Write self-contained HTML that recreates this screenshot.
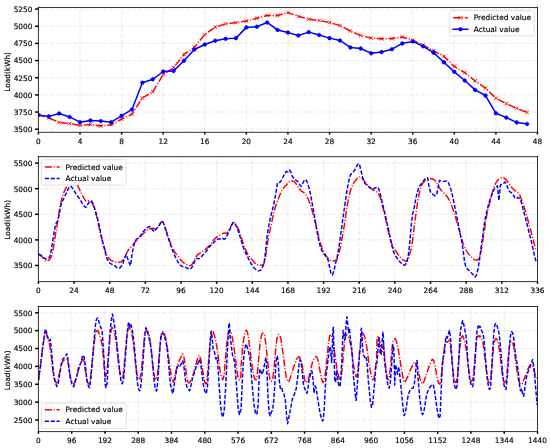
<!DOCTYPE html>
<html><head><meta charset="utf-8"><style>
html,body{margin:0;padding:0;background:#fff;overflow:hidden}
svg{display:block}
svg text{font-family:"DejaVu Sans","Liberation Sans",sans-serif;stroke:#000;stroke-width:0.2px;fill:#000}
</style></head><body>
<svg width="550" height="448" viewBox="0 0 743.243243 605.405405" version="1.1">
 
 <defs>
  <style type="text/css">*{stroke-linejoin: round; stroke-linecap: butt}</style>
 </defs>
 <g id="figure_1">
  <g id="patch_1">
   <path d="M 0 605.405405 
L 743.243243 605.405405 
L 743.243243 0 
L 0 0 
z
" style="fill: #ffffff"/>
  </g>
  <g id="axes_1">
   <g id="patch_2">
    <path d="M 51.891892 178.783784 
L 726.351351 178.783784 
L 726.351351 10.067568 
L 51.891892 10.067568 
z
" style="fill: #ffffff"/>
   </g>
   <g id="matplotlib.axis_1">
    <g id="xtick_1">
     <g id="line2d_1">
      <path d="M 51.891892 178.783784 
L 51.891892 10.067568 
" clip-path="url(#pc8f0f2f021)" style="fill: none; stroke-dasharray: 5.55,2.4; stroke-dashoffset: 0; stroke: #b0b0b0; stroke-opacity: 0.24; stroke-width: 1.5"/>
     </g>
     <g id="line2d_2">
      <g>
       <path d="M 0 0 L 0 3" transform="translate(51.891892 178.783784)" style="stroke: #000000; stroke-width: 2; stroke: #000000; stroke-width: 2"/>
      </g>
     </g>
     <g id="text_1">
      <text style="font-size: 10px; font-family: 'DejaVu Sans'; text-anchor: middle" x="51.891892" y="194.782221" transform="rotate(-0 51.891892 194.782221)">0</text>
     </g>
    </g>
    <g id="xtick_2">
     <g id="line2d_3">
      <path d="M 108.096847 178.783784 
L 108.096847 10.067568 
" clip-path="url(#pc8f0f2f021)" style="fill: none; stroke-dasharray: 5.55,2.4; stroke-dashoffset: 0; stroke: #b0b0b0; stroke-opacity: 0.24; stroke-width: 1.5"/>
     </g>
     <g id="line2d_4">
      <g>
       <path d="M 0 0 L 0 3" transform="translate(108.096847 178.783784)" style="stroke: #000000; stroke-width: 2; stroke: #000000; stroke-width: 2"/>
      </g>
     </g>
     <g id="text_2">
      <text style="font-size: 10px; font-family: 'DejaVu Sans'; text-anchor: middle" x="108.096847" y="194.782221" transform="rotate(-0 108.096847 194.782221)">4</text>
     </g>
    </g>
    <g id="xtick_3">
     <g id="line2d_5">
      <path d="M 164.301802 178.783784 
L 164.301802 10.067568 
" clip-path="url(#pc8f0f2f021)" style="fill: none; stroke-dasharray: 5.55,2.4; stroke-dashoffset: 0; stroke: #b0b0b0; stroke-opacity: 0.24; stroke-width: 1.5"/>
     </g>
     <g id="line2d_6">
      <g>
       <path d="M 0 0 L 0 3" transform="translate(164.301802 178.783784)" style="stroke: #000000; stroke-width: 2; stroke: #000000; stroke-width: 2"/>
      </g>
     </g>
     <g id="text_3">
      <text style="font-size: 10px; font-family: 'DejaVu Sans'; text-anchor: middle" x="164.301802" y="194.782221" transform="rotate(-0 164.301802 194.782221)">8</text>
     </g>
    </g>
    <g id="xtick_4">
     <g id="line2d_7">
      <path d="M 220.506757 178.783784 
L 220.506757 10.067568 
" clip-path="url(#pc8f0f2f021)" style="fill: none; stroke-dasharray: 5.55,2.4; stroke-dashoffset: 0; stroke: #b0b0b0; stroke-opacity: 0.24; stroke-width: 1.5"/>
     </g>
     <g id="line2d_8">
      <g>
       <path d="M 0 0 L 0 3" transform="translate(220.506757 178.783784)" style="stroke: #000000; stroke-width: 2; stroke: #000000; stroke-width: 2"/>
      </g>
     </g>
     <g id="text_4">
      <text style="font-size: 10px; font-family: 'DejaVu Sans'; text-anchor: middle" x="220.506757" y="194.782221" transform="rotate(-0 220.506757 194.782221)">12</text>
     </g>
    </g>
    <g id="xtick_5">
     <g id="line2d_9">
      <path d="M 276.711712 178.783784 
L 276.711712 10.067568 
" clip-path="url(#pc8f0f2f021)" style="fill: none; stroke-dasharray: 5.55,2.4; stroke-dashoffset: 0; stroke: #b0b0b0; stroke-opacity: 0.24; stroke-width: 1.5"/>
     </g>
     <g id="line2d_10">
      <g>
       <path d="M 0 0 L 0 3" transform="translate(276.711712 178.783784)" style="stroke: #000000; stroke-width: 2; stroke: #000000; stroke-width: 2"/>
      </g>
     </g>
     <g id="text_5">
      <text style="font-size: 10px; font-family: 'DejaVu Sans'; text-anchor: middle" x="276.711712" y="194.782221" transform="rotate(-0 276.711712 194.782221)">16</text>
     </g>
    </g>
    <g id="xtick_6">
     <g id="line2d_11">
      <path d="M 332.916667 178.783784 
L 332.916667 10.067568 
" clip-path="url(#pc8f0f2f021)" style="fill: none; stroke-dasharray: 5.55,2.4; stroke-dashoffset: 0; stroke: #b0b0b0; stroke-opacity: 0.24; stroke-width: 1.5"/>
     </g>
     <g id="line2d_12">
      <g>
       <path d="M 0 0 L 0 3" transform="translate(332.916667 178.783784)" style="stroke: #000000; stroke-width: 2; stroke: #000000; stroke-width: 2"/>
      </g>
     </g>
     <g id="text_6">
      <text style="font-size: 10px; font-family: 'DejaVu Sans'; text-anchor: middle" x="332.916667" y="194.782221" transform="rotate(-0 332.916667 194.782221)">20</text>
     </g>
    </g>
    <g id="xtick_7">
     <g id="line2d_13">
      <path d="M 389.121622 178.783784 
L 389.121622 10.067568 
" clip-path="url(#pc8f0f2f021)" style="fill: none; stroke-dasharray: 5.55,2.4; stroke-dashoffset: 0; stroke: #b0b0b0; stroke-opacity: 0.24; stroke-width: 1.5"/>
     </g>
     <g id="line2d_14">
      <g>
       <path d="M 0 0 L 0 3" transform="translate(389.121622 178.783784)" style="stroke: #000000; stroke-width: 2; stroke: #000000; stroke-width: 2"/>
      </g>
     </g>
     <g id="text_7">
      <text style="font-size: 10px; font-family: 'DejaVu Sans'; text-anchor: middle" x="389.121622" y="194.782221" transform="rotate(-0 389.121622 194.782221)">24</text>
     </g>
    </g>
    <g id="xtick_8">
     <g id="line2d_15">
      <path d="M 445.326577 178.783784 
L 445.326577 10.067568 
" clip-path="url(#pc8f0f2f021)" style="fill: none; stroke-dasharray: 5.55,2.4; stroke-dashoffset: 0; stroke: #b0b0b0; stroke-opacity: 0.24; stroke-width: 1.5"/>
     </g>
     <g id="line2d_16">
      <g>
       <path d="M 0 0 L 0 3" transform="translate(445.326577 178.783784)" style="stroke: #000000; stroke-width: 2; stroke: #000000; stroke-width: 2"/>
      </g>
     </g>
     <g id="text_8">
      <text style="font-size: 10px; font-family: 'DejaVu Sans'; text-anchor: middle" x="445.326577" y="194.782221" transform="rotate(-0 445.326577 194.782221)">28</text>
     </g>
    </g>
    <g id="xtick_9">
     <g id="line2d_17">
      <path d="M 501.531532 178.783784 
L 501.531532 10.067568 
" clip-path="url(#pc8f0f2f021)" style="fill: none; stroke-dasharray: 5.55,2.4; stroke-dashoffset: 0; stroke: #b0b0b0; stroke-opacity: 0.24; stroke-width: 1.5"/>
     </g>
     <g id="line2d_18">
      <g>
       <path d="M 0 0 L 0 3" transform="translate(501.531532 178.783784)" style="stroke: #000000; stroke-width: 2; stroke: #000000; stroke-width: 2"/>
      </g>
     </g>
     <g id="text_9">
      <text style="font-size: 10px; font-family: 'DejaVu Sans'; text-anchor: middle" x="501.531532" y="194.782221" transform="rotate(-0 501.531532 194.782221)">32</text>
     </g>
    </g>
    <g id="xtick_10">
     <g id="line2d_19">
      <path d="M 557.736486 178.783784 
L 557.736486 10.067568 
" clip-path="url(#pc8f0f2f021)" style="fill: none; stroke-dasharray: 5.55,2.4; stroke-dashoffset: 0; stroke: #b0b0b0; stroke-opacity: 0.24; stroke-width: 1.5"/>
     </g>
     <g id="line2d_20">
      <g>
       <path d="M 0 0 L 0 3" transform="translate(557.736486 178.783784)" style="stroke: #000000; stroke-width: 2; stroke: #000000; stroke-width: 2"/>
      </g>
     </g>
     <g id="text_10">
      <text style="font-size: 10px; font-family: 'DejaVu Sans'; text-anchor: middle" x="557.736486" y="194.782221" transform="rotate(-0 557.736486 194.782221)">36</text>
     </g>
    </g>
    <g id="xtick_11">
     <g id="line2d_21">
      <path d="M 613.941441 178.783784 
L 613.941441 10.067568 
" clip-path="url(#pc8f0f2f021)" style="fill: none; stroke-dasharray: 5.55,2.4; stroke-dashoffset: 0; stroke: #b0b0b0; stroke-opacity: 0.24; stroke-width: 1.5"/>
     </g>
     <g id="line2d_22">
      <g>
       <path d="M 0 0 L 0 3" transform="translate(613.941441 178.783784)" style="stroke: #000000; stroke-width: 2; stroke: #000000; stroke-width: 2"/>
      </g>
     </g>
     <g id="text_11">
      <text style="font-size: 10px; font-family: 'DejaVu Sans'; text-anchor: middle" x="613.941441" y="194.782221" transform="rotate(-0 613.941441 194.782221)">40</text>
     </g>
    </g>
    <g id="xtick_12">
     <g id="line2d_23">
      <path d="M 670.146396 178.783784 
L 670.146396 10.067568 
" clip-path="url(#pc8f0f2f021)" style="fill: none; stroke-dasharray: 5.55,2.4; stroke-dashoffset: 0; stroke: #b0b0b0; stroke-opacity: 0.24; stroke-width: 1.5"/>
     </g>
     <g id="line2d_24">
      <g>
       <path d="M 0 0 L 0 3" transform="translate(670.146396 178.783784)" style="stroke: #000000; stroke-width: 2; stroke: #000000; stroke-width: 2"/>
      </g>
     </g>
     <g id="text_12">
      <text style="font-size: 10px; font-family: 'DejaVu Sans'; text-anchor: middle" x="670.146396" y="194.782221" transform="rotate(-0 670.146396 194.782221)">44</text>
     </g>
    </g>
    <g id="xtick_13">
     <g id="line2d_25">
      <path d="M 726.351351 178.783784 
L 726.351351 10.067568 
" clip-path="url(#pc8f0f2f021)" style="fill: none; stroke-dasharray: 5.55,2.4; stroke-dashoffset: 0; stroke: #b0b0b0; stroke-opacity: 0.24; stroke-width: 1.5"/>
     </g>
     <g id="line2d_26">
      <g>
       <path d="M 0 0 L 0 3" transform="translate(726.351351 178.783784)" style="stroke: #000000; stroke-width: 2; stroke: #000000; stroke-width: 2"/>
      </g>
     </g>
     <g id="text_13">
      <text style="font-size: 10px; font-family: 'DejaVu Sans'; text-anchor: middle" x="726.351351" y="194.782221" transform="rotate(-0 726.351351 194.782221)">48</text>
     </g>
    </g>
   </g>
   <g id="matplotlib.axis_2">
    <g id="ytick_1">
     <g id="line2d_27">
      <path d="M 51.891892 174.597973 
L 726.351351 174.597973 
" clip-path="url(#pc8f0f2f021)" style="fill: none; stroke-dasharray: 5.55,2.4; stroke-dashoffset: 0; stroke: #b0b0b0; stroke-opacity: 0.24; stroke-width: 1.5"/>
     </g>
     <g id="line2d_28">
      <g>
       <path d="M 0 0 L -4.5 0" transform="translate(51.891892 174.597973)" style="stroke: #000000; stroke-width: 2; stroke: #000000; stroke-width: 2"/>
      </g>
     </g>
     <g id="text_14">
      <text style="font-size: 10px; font-family: 'DejaVu Sans'; text-anchor: end" x="43.891892" y="178.397192" transform="rotate(-0 43.891892 178.397192)">3500</text>
     </g>
    </g>
    <g id="ytick_2">
     <g id="line2d_29">
      <path d="M 51.891892 151.412162 
L 726.351351 151.412162 
" clip-path="url(#pc8f0f2f021)" style="fill: none; stroke-dasharray: 5.55,2.4; stroke-dashoffset: 0; stroke: #b0b0b0; stroke-opacity: 0.24; stroke-width: 1.5"/>
     </g>
     <g id="line2d_30">
      <g>
       <path d="M 0 0 L -4.5 0" transform="translate(51.891892 151.412162)" style="stroke: #000000; stroke-width: 2; stroke: #000000; stroke-width: 2"/>
      </g>
     </g>
     <g id="text_15">
      <text style="font-size: 10px; font-family: 'DejaVu Sans'; text-anchor: end" x="43.891892" y="155.211381" transform="rotate(-0 43.891892 155.211381)">3750</text>
     </g>
    </g>
    <g id="ytick_3">
     <g id="line2d_31">
      <path d="M 51.891892 128.226351 
L 726.351351 128.226351 
" clip-path="url(#pc8f0f2f021)" style="fill: none; stroke-dasharray: 5.55,2.4; stroke-dashoffset: 0; stroke: #b0b0b0; stroke-opacity: 0.24; stroke-width: 1.5"/>
     </g>
     <g id="line2d_32">
      <g>
       <path d="M 0 0 L -4.5 0" transform="translate(51.891892 128.226351)" style="stroke: #000000; stroke-width: 2; stroke: #000000; stroke-width: 2"/>
      </g>
     </g>
     <g id="text_16">
      <text style="font-size: 10px; font-family: 'DejaVu Sans'; text-anchor: end" x="43.891892" y="132.02557" transform="rotate(-0 43.891892 132.02557)">4000</text>
     </g>
    </g>
    <g id="ytick_4">
     <g id="line2d_33">
      <path d="M 51.891892 105.040541 
L 726.351351 105.040541 
" clip-path="url(#pc8f0f2f021)" style="fill: none; stroke-dasharray: 5.55,2.4; stroke-dashoffset: 0; stroke: #b0b0b0; stroke-opacity: 0.24; stroke-width: 1.5"/>
     </g>
     <g id="line2d_34">
      <g>
       <path d="M 0 0 L -4.5 0" transform="translate(51.891892 105.040541)" style="stroke: #000000; stroke-width: 2; stroke: #000000; stroke-width: 2"/>
      </g>
     </g>
     <g id="text_17">
      <text style="font-size: 10px; font-family: 'DejaVu Sans'; text-anchor: end" x="43.891892" y="108.839759" transform="rotate(-0 43.891892 108.839759)">4250</text>
     </g>
    </g>
    <g id="ytick_5">
     <g id="line2d_35">
      <path d="M 51.891892 81.85473 
L 726.351351 81.85473 
" clip-path="url(#pc8f0f2f021)" style="fill: none; stroke-dasharray: 5.55,2.4; stroke-dashoffset: 0; stroke: #b0b0b0; stroke-opacity: 0.24; stroke-width: 1.5"/>
     </g>
     <g id="line2d_36">
      <g>
       <path d="M 0 0 L -4.5 0" transform="translate(51.891892 81.85473)" style="stroke: #000000; stroke-width: 2; stroke: #000000; stroke-width: 2"/>
      </g>
     </g>
     <g id="text_18">
      <text style="font-size: 10px; font-family: 'DejaVu Sans'; text-anchor: end" x="43.891892" y="85.653948" transform="rotate(-0 43.891892 85.653948)">4500</text>
     </g>
    </g>
    <g id="ytick_6">
     <g id="line2d_37">
      <path d="M 51.891892 58.668919 
L 726.351351 58.668919 
" clip-path="url(#pc8f0f2f021)" style="fill: none; stroke-dasharray: 5.55,2.4; stroke-dashoffset: 0; stroke: #b0b0b0; stroke-opacity: 0.24; stroke-width: 1.5"/>
     </g>
     <g id="line2d_38">
      <g>
       <path d="M 0 0 L -4.5 0" transform="translate(51.891892 58.668919)" style="stroke: #000000; stroke-width: 2; stroke: #000000; stroke-width: 2"/>
      </g>
     </g>
     <g id="text_19">
      <text style="font-size: 10px; font-family: 'DejaVu Sans'; text-anchor: end" x="43.891892" y="62.468138" transform="rotate(-0 43.891892 62.468138)">4750</text>
     </g>
    </g>
    <g id="ytick_7">
     <g id="line2d_39">
      <path d="M 51.891892 35.483108 
L 726.351351 35.483108 
" clip-path="url(#pc8f0f2f021)" style="fill: none; stroke-dasharray: 5.55,2.4; stroke-dashoffset: 0; stroke: #b0b0b0; stroke-opacity: 0.24; stroke-width: 1.5"/>
     </g>
     <g id="line2d_40">
      <g>
       <path d="M 0 0 L -4.5 0" transform="translate(51.891892 35.483108)" style="stroke: #000000; stroke-width: 2; stroke: #000000; stroke-width: 2"/>
      </g>
     </g>
     <g id="text_20">
      <text style="font-size: 10px; font-family: 'DejaVu Sans'; text-anchor: end" x="43.891892" y="39.282327" transform="rotate(-0 43.891892 39.282327)">5000</text>
     </g>
    </g>
    <g id="ytick_8">
     <g id="line2d_41">
      <path d="M 51.891892 12.297297 
L 726.351351 12.297297 
" clip-path="url(#pc8f0f2f021)" style="fill: none; stroke-dasharray: 5.55,2.4; stroke-dashoffset: 0; stroke: #b0b0b0; stroke-opacity: 0.24; stroke-width: 1.5"/>
     </g>
     <g id="line2d_42">
      <g>
       <path d="M 0 0 L -4.5 0" transform="translate(51.891892 12.297297)" style="stroke: #000000; stroke-width: 2; stroke: #000000; stroke-width: 2"/>
      </g>
     </g>
     <g id="text_21">
      <text style="font-size: 10px; font-family: 'DejaVu Sans'; text-anchor: end" x="43.891892" y="16.096516" transform="rotate(-0 43.891892 16.096516)">5250</text>
     </g>
    </g>
    <g id="text_22">
     <text style="font-size: 10px; font-family: 'DejaVu Sans'; text-anchor: middle" x="13.661177" y="97.125135" transform="rotate(-90 13.661177 97.125135)">Load(kWh)</text>
    </g>
   </g>
   <g id="line2d_43">
    <path d="M 51.891892 155.510811 
L 65.943131 159.208108 
L 79.994369 165.401081 
L 94.045608 167.064865 
L 108.096847 169.560541 
L 122.148086 168.266486 
L 136.199324 170.3 
L 150.250563 168.543784 
L 164.301802 160.964324 
L 178.353041 154.309189 
L 192.404279 132.402703 
L 206.455518 124.083784 
L 220.506757 100.698378 
L 234.557995 91.362703 
L 248.609234 73.615676 
L 262.660473 63.91027 
L 276.711712 46.625405 
L 290.76295 36.55027 
L 304.814189 32.298378 
L 318.865428 30.542162 
L 332.916667 28.416216 
L 346.967905 24.718919 
L 361.019144 20.836757 
L 375.070383 20.836757 
L 389.121622 17.047027 
L 403.17286 22.038378 
L 417.224099 25.920541 
L 431.275338 27.676757 
L 445.326577 30.357297 
L 459.377815 34.516757 
L 473.429054 41.911351 
L 487.480293 48.011892 
L 501.531532 51.524324 
L 515.58277 52.448649 
L 529.634009 52.078919 
L 543.685248 50.045405 
L 557.736486 54.204865 
L 571.787725 60.86 
L 585.838964 68.624324 
L 599.890203 76.111351 
L 613.941441 89.791351 
L 627.99268 98.11027 
L 642.043919 109.294595 
L 656.095158 119 
L 670.146396 132.68 
L 684.197635 139.982162 
L 698.248874 146.452432 
L 712.300113 151.905946 
" clip-path="url(#pc8f0f2f021)" style="fill: none; stroke-dasharray: 9.6,2.4,1.5,2.4; stroke-dashoffset: 0; stroke: #ff0000; stroke-width: 2"/>
    <g clip-path="url(#pc8f0f2f021)">
     <path d="M -2.4 2.4 L 2.4 -2.4 M -2.4 -2.4 L 2.4 2.4" transform="translate(51.891892 155.510811)" style="fill: #ff0000; stroke: #ff0000; stroke-width: 1.2; stroke: #ff0000; stroke-width: 1.2"/>
     <path d="M -2.4 2.4 L 2.4 -2.4 M -2.4 -2.4 L 2.4 2.4" transform="translate(65.943131 159.208108)" style="fill: #ff0000; stroke: #ff0000; stroke-width: 1.2; stroke: #ff0000; stroke-width: 1.2"/>
     <path d="M -2.4 2.4 L 2.4 -2.4 M -2.4 -2.4 L 2.4 2.4" transform="translate(79.994369 165.401081)" style="fill: #ff0000; stroke: #ff0000; stroke-width: 1.2; stroke: #ff0000; stroke-width: 1.2"/>
     <path d="M -2.4 2.4 L 2.4 -2.4 M -2.4 -2.4 L 2.4 2.4" transform="translate(94.045608 167.064865)" style="fill: #ff0000; stroke: #ff0000; stroke-width: 1.2; stroke: #ff0000; stroke-width: 1.2"/>
     <path d="M -2.4 2.4 L 2.4 -2.4 M -2.4 -2.4 L 2.4 2.4" transform="translate(108.096847 169.560541)" style="fill: #ff0000; stroke: #ff0000; stroke-width: 1.2; stroke: #ff0000; stroke-width: 1.2"/>
     <path d="M -2.4 2.4 L 2.4 -2.4 M -2.4 -2.4 L 2.4 2.4" transform="translate(122.148086 168.266486)" style="fill: #ff0000; stroke: #ff0000; stroke-width: 1.2; stroke: #ff0000; stroke-width: 1.2"/>
     <path d="M -2.4 2.4 L 2.4 -2.4 M -2.4 -2.4 L 2.4 2.4" transform="translate(136.199324 170.3)" style="fill: #ff0000; stroke: #ff0000; stroke-width: 1.2; stroke: #ff0000; stroke-width: 1.2"/>
     <path d="M -2.4 2.4 L 2.4 -2.4 M -2.4 -2.4 L 2.4 2.4" transform="translate(150.250563 168.543784)" style="fill: #ff0000; stroke: #ff0000; stroke-width: 1.2; stroke: #ff0000; stroke-width: 1.2"/>
     <path d="M -2.4 2.4 L 2.4 -2.4 M -2.4 -2.4 L 2.4 2.4" transform="translate(164.301802 160.964324)" style="fill: #ff0000; stroke: #ff0000; stroke-width: 1.2; stroke: #ff0000; stroke-width: 1.2"/>
     <path d="M -2.4 2.4 L 2.4 -2.4 M -2.4 -2.4 L 2.4 2.4" transform="translate(178.353041 154.309189)" style="fill: #ff0000; stroke: #ff0000; stroke-width: 1.2; stroke: #ff0000; stroke-width: 1.2"/>
     <path d="M -2.4 2.4 L 2.4 -2.4 M -2.4 -2.4 L 2.4 2.4" transform="translate(192.404279 132.402703)" style="fill: #ff0000; stroke: #ff0000; stroke-width: 1.2; stroke: #ff0000; stroke-width: 1.2"/>
     <path d="M -2.4 2.4 L 2.4 -2.4 M -2.4 -2.4 L 2.4 2.4" transform="translate(206.455518 124.083784)" style="fill: #ff0000; stroke: #ff0000; stroke-width: 1.2; stroke: #ff0000; stroke-width: 1.2"/>
     <path d="M -2.4 2.4 L 2.4 -2.4 M -2.4 -2.4 L 2.4 2.4" transform="translate(220.506757 100.698378)" style="fill: #ff0000; stroke: #ff0000; stroke-width: 1.2; stroke: #ff0000; stroke-width: 1.2"/>
     <path d="M -2.4 2.4 L 2.4 -2.4 M -2.4 -2.4 L 2.4 2.4" transform="translate(234.557995 91.362703)" style="fill: #ff0000; stroke: #ff0000; stroke-width: 1.2; stroke: #ff0000; stroke-width: 1.2"/>
     <path d="M -2.4 2.4 L 2.4 -2.4 M -2.4 -2.4 L 2.4 2.4" transform="translate(248.609234 73.615676)" style="fill: #ff0000; stroke: #ff0000; stroke-width: 1.2; stroke: #ff0000; stroke-width: 1.2"/>
     <path d="M -2.4 2.4 L 2.4 -2.4 M -2.4 -2.4 L 2.4 2.4" transform="translate(262.660473 63.91027)" style="fill: #ff0000; stroke: #ff0000; stroke-width: 1.2; stroke: #ff0000; stroke-width: 1.2"/>
     <path d="M -2.4 2.4 L 2.4 -2.4 M -2.4 -2.4 L 2.4 2.4" transform="translate(276.711712 46.625405)" style="fill: #ff0000; stroke: #ff0000; stroke-width: 1.2; stroke: #ff0000; stroke-width: 1.2"/>
     <path d="M -2.4 2.4 L 2.4 -2.4 M -2.4 -2.4 L 2.4 2.4" transform="translate(290.76295 36.55027)" style="fill: #ff0000; stroke: #ff0000; stroke-width: 1.2; stroke: #ff0000; stroke-width: 1.2"/>
     <path d="M -2.4 2.4 L 2.4 -2.4 M -2.4 -2.4 L 2.4 2.4" transform="translate(304.814189 32.298378)" style="fill: #ff0000; stroke: #ff0000; stroke-width: 1.2; stroke: #ff0000; stroke-width: 1.2"/>
     <path d="M -2.4 2.4 L 2.4 -2.4 M -2.4 -2.4 L 2.4 2.4" transform="translate(318.865428 30.542162)" style="fill: #ff0000; stroke: #ff0000; stroke-width: 1.2; stroke: #ff0000; stroke-width: 1.2"/>
     <path d="M -2.4 2.4 L 2.4 -2.4 M -2.4 -2.4 L 2.4 2.4" transform="translate(332.916667 28.416216)" style="fill: #ff0000; stroke: #ff0000; stroke-width: 1.2; stroke: #ff0000; stroke-width: 1.2"/>
     <path d="M -2.4 2.4 L 2.4 -2.4 M -2.4 -2.4 L 2.4 2.4" transform="translate(346.967905 24.718919)" style="fill: #ff0000; stroke: #ff0000; stroke-width: 1.2; stroke: #ff0000; stroke-width: 1.2"/>
     <path d="M -2.4 2.4 L 2.4 -2.4 M -2.4 -2.4 L 2.4 2.4" transform="translate(361.019144 20.836757)" style="fill: #ff0000; stroke: #ff0000; stroke-width: 1.2; stroke: #ff0000; stroke-width: 1.2"/>
     <path d="M -2.4 2.4 L 2.4 -2.4 M -2.4 -2.4 L 2.4 2.4" transform="translate(375.070383 20.836757)" style="fill: #ff0000; stroke: #ff0000; stroke-width: 1.2; stroke: #ff0000; stroke-width: 1.2"/>
     <path d="M -2.4 2.4 L 2.4 -2.4 M -2.4 -2.4 L 2.4 2.4" transform="translate(389.121622 17.047027)" style="fill: #ff0000; stroke: #ff0000; stroke-width: 1.2; stroke: #ff0000; stroke-width: 1.2"/>
     <path d="M -2.4 2.4 L 2.4 -2.4 M -2.4 -2.4 L 2.4 2.4" transform="translate(403.17286 22.038378)" style="fill: #ff0000; stroke: #ff0000; stroke-width: 1.2; stroke: #ff0000; stroke-width: 1.2"/>
     <path d="M -2.4 2.4 L 2.4 -2.4 M -2.4 -2.4 L 2.4 2.4" transform="translate(417.224099 25.920541)" style="fill: #ff0000; stroke: #ff0000; stroke-width: 1.2; stroke: #ff0000; stroke-width: 1.2"/>
     <path d="M -2.4 2.4 L 2.4 -2.4 M -2.4 -2.4 L 2.4 2.4" transform="translate(431.275338 27.676757)" style="fill: #ff0000; stroke: #ff0000; stroke-width: 1.2; stroke: #ff0000; stroke-width: 1.2"/>
     <path d="M -2.4 2.4 L 2.4 -2.4 M -2.4 -2.4 L 2.4 2.4" transform="translate(445.326577 30.357297)" style="fill: #ff0000; stroke: #ff0000; stroke-width: 1.2; stroke: #ff0000; stroke-width: 1.2"/>
     <path d="M -2.4 2.4 L 2.4 -2.4 M -2.4 -2.4 L 2.4 2.4" transform="translate(459.377815 34.516757)" style="fill: #ff0000; stroke: #ff0000; stroke-width: 1.2; stroke: #ff0000; stroke-width: 1.2"/>
     <path d="M -2.4 2.4 L 2.4 -2.4 M -2.4 -2.4 L 2.4 2.4" transform="translate(473.429054 41.911351)" style="fill: #ff0000; stroke: #ff0000; stroke-width: 1.2; stroke: #ff0000; stroke-width: 1.2"/>
     <path d="M -2.4 2.4 L 2.4 -2.4 M -2.4 -2.4 L 2.4 2.4" transform="translate(487.480293 48.011892)" style="fill: #ff0000; stroke: #ff0000; stroke-width: 1.2; stroke: #ff0000; stroke-width: 1.2"/>
     <path d="M -2.4 2.4 L 2.4 -2.4 M -2.4 -2.4 L 2.4 2.4" transform="translate(501.531532 51.524324)" style="fill: #ff0000; stroke: #ff0000; stroke-width: 1.2; stroke: #ff0000; stroke-width: 1.2"/>
     <path d="M -2.4 2.4 L 2.4 -2.4 M -2.4 -2.4 L 2.4 2.4" transform="translate(515.58277 52.448649)" style="fill: #ff0000; stroke: #ff0000; stroke-width: 1.2; stroke: #ff0000; stroke-width: 1.2"/>
     <path d="M -2.4 2.4 L 2.4 -2.4 M -2.4 -2.4 L 2.4 2.4" transform="translate(529.634009 52.078919)" style="fill: #ff0000; stroke: #ff0000; stroke-width: 1.2; stroke: #ff0000; stroke-width: 1.2"/>
     <path d="M -2.4 2.4 L 2.4 -2.4 M -2.4 -2.4 L 2.4 2.4" transform="translate(543.685248 50.045405)" style="fill: #ff0000; stroke: #ff0000; stroke-width: 1.2; stroke: #ff0000; stroke-width: 1.2"/>
     <path d="M -2.4 2.4 L 2.4 -2.4 M -2.4 -2.4 L 2.4 2.4" transform="translate(557.736486 54.204865)" style="fill: #ff0000; stroke: #ff0000; stroke-width: 1.2; stroke: #ff0000; stroke-width: 1.2"/>
     <path d="M -2.4 2.4 L 2.4 -2.4 M -2.4 -2.4 L 2.4 2.4" transform="translate(571.787725 60.86)" style="fill: #ff0000; stroke: #ff0000; stroke-width: 1.2; stroke: #ff0000; stroke-width: 1.2"/>
     <path d="M -2.4 2.4 L 2.4 -2.4 M -2.4 -2.4 L 2.4 2.4" transform="translate(585.838964 68.624324)" style="fill: #ff0000; stroke: #ff0000; stroke-width: 1.2; stroke: #ff0000; stroke-width: 1.2"/>
     <path d="M -2.4 2.4 L 2.4 -2.4 M -2.4 -2.4 L 2.4 2.4" transform="translate(599.890203 76.111351)" style="fill: #ff0000; stroke: #ff0000; stroke-width: 1.2; stroke: #ff0000; stroke-width: 1.2"/>
     <path d="M -2.4 2.4 L 2.4 -2.4 M -2.4 -2.4 L 2.4 2.4" transform="translate(613.941441 89.791351)" style="fill: #ff0000; stroke: #ff0000; stroke-width: 1.2; stroke: #ff0000; stroke-width: 1.2"/>
     <path d="M -2.4 2.4 L 2.4 -2.4 M -2.4 -2.4 L 2.4 2.4" transform="translate(627.99268 98.11027)" style="fill: #ff0000; stroke: #ff0000; stroke-width: 1.2; stroke: #ff0000; stroke-width: 1.2"/>
     <path d="M -2.4 2.4 L 2.4 -2.4 M -2.4 -2.4 L 2.4 2.4" transform="translate(642.043919 109.294595)" style="fill: #ff0000; stroke: #ff0000; stroke-width: 1.2; stroke: #ff0000; stroke-width: 1.2"/>
     <path d="M -2.4 2.4 L 2.4 -2.4 M -2.4 -2.4 L 2.4 2.4" transform="translate(656.095158 119)" style="fill: #ff0000; stroke: #ff0000; stroke-width: 1.2; stroke: #ff0000; stroke-width: 1.2"/>
     <path d="M -2.4 2.4 L 2.4 -2.4 M -2.4 -2.4 L 2.4 2.4" transform="translate(670.146396 132.68)" style="fill: #ff0000; stroke: #ff0000; stroke-width: 1.2; stroke: #ff0000; stroke-width: 1.2"/>
     <path d="M -2.4 2.4 L 2.4 -2.4 M -2.4 -2.4 L 2.4 2.4" transform="translate(684.197635 139.982162)" style="fill: #ff0000; stroke: #ff0000; stroke-width: 1.2; stroke: #ff0000; stroke-width: 1.2"/>
     <path d="M -2.4 2.4 L 2.4 -2.4 M -2.4 -2.4 L 2.4 2.4" transform="translate(698.248874 146.452432)" style="fill: #ff0000; stroke: #ff0000; stroke-width: 1.2; stroke: #ff0000; stroke-width: 1.2"/>
     <path d="M -2.4 2.4 L 2.4 -2.4 M -2.4 -2.4 L 2.4 2.4" transform="translate(712.300113 151.905946)" style="fill: #ff0000; stroke: #ff0000; stroke-width: 1.2; stroke: #ff0000; stroke-width: 1.2"/>
    </g>
   </g>
   <g id="line2d_44">
    <path d="M 51.891892 155.510811 
L 65.943131 157.267027 
L 79.994369 153.292432 
L 94.045608 158.006486 
L 108.096847 165.123784 
L 122.148086 162.720541 
L 136.199324 163.644865 
L 150.250563 165.123784 
L 164.301802 156.527568 
L 178.353041 147.931351 
L 192.404279 111.79027 
L 206.455518 107.168649 
L 220.506757 96.631351 
L 234.557995 95.799459 
L 248.609234 82.027027 
L 262.660473 66.868108 
L 276.711712 60.120541 
L 290.76295 55.036757 
L 304.814189 52.448649 
L 318.865428 51.524324 
L 332.916667 37.012432 
L 346.967905 36.180541 
L 361.019144 30.357297 
L 375.070383 40.432432 
L 389.121622 44.037297 
L 403.17286 48.011892 
L 417.224099 43.39027 
L 431.275338 47.272432 
L 445.326577 51.524324 
L 459.377815 54.667027 
L 473.429054 64.095135 
L 487.480293 65.574054 
L 501.531532 71.951892 
L 515.58277 70.380541 
L 529.634009 66.498378 
L 543.685248 58.641622 
L 557.736486 55.961081 
L 571.787725 62.523784 
L 585.838964 71.12 
L 599.890203 84.152973 
L 613.941441 97.093514 
L 627.99268 108.74 
L 642.043919 121.495676 
L 656.095158 129.075135 
L 670.146396 153.107568 
L 684.197635 158.930811 
L 698.248874 165.401081 
L 712.300113 167.527027 
" clip-path="url(#pc8f0f2f021)" style="fill: none; stroke: #0000ff; stroke-width: 2; stroke-linecap: square"/>
    <g clip-path="url(#pc8f0f2f021)">
     <path d="M 0 2.4 C 0.636487 2.4 1.246992 2.147121 1.697056 1.697056 C 2.147121 1.246992 2.4 0.636487 2.4 0 C 2.4 -0.636487 2.147121 -1.246992 1.697056 -1.697056 C 1.246992 -2.147121 0.636487 -2.4 0 -2.4 C -0.636487 -2.4 -1.246992 -2.147121 -1.697056 -1.697056 C -2.147121 -1.246992 -2.4 -0.636487 -2.4 0 C -2.4 0.636487 -2.147121 1.246992 -1.697056 1.697056 C -1.246992 2.147121 -0.636487 2.4 0 2.4 z" transform="translate(51.891892 155.510811)" style="fill: #0000ff; stroke: #0000ff; stroke: #0000ff"/>
     <path d="M 0 2.4 C 0.636487 2.4 1.246992 2.147121 1.697056 1.697056 C 2.147121 1.246992 2.4 0.636487 2.4 0 C 2.4 -0.636487 2.147121 -1.246992 1.697056 -1.697056 C 1.246992 -2.147121 0.636487 -2.4 0 -2.4 C -0.636487 -2.4 -1.246992 -2.147121 -1.697056 -1.697056 C -2.147121 -1.246992 -2.4 -0.636487 -2.4 0 C -2.4 0.636487 -2.147121 1.246992 -1.697056 1.697056 C -1.246992 2.147121 -0.636487 2.4 0 2.4 z" transform="translate(65.943131 157.267027)" style="fill: #0000ff; stroke: #0000ff; stroke: #0000ff"/>
     <path d="M 0 2.4 C 0.636487 2.4 1.246992 2.147121 1.697056 1.697056 C 2.147121 1.246992 2.4 0.636487 2.4 0 C 2.4 -0.636487 2.147121 -1.246992 1.697056 -1.697056 C 1.246992 -2.147121 0.636487 -2.4 0 -2.4 C -0.636487 -2.4 -1.246992 -2.147121 -1.697056 -1.697056 C -2.147121 -1.246992 -2.4 -0.636487 -2.4 0 C -2.4 0.636487 -2.147121 1.246992 -1.697056 1.697056 C -1.246992 2.147121 -0.636487 2.4 0 2.4 z" transform="translate(79.994369 153.292432)" style="fill: #0000ff; stroke: #0000ff; stroke: #0000ff"/>
     <path d="M 0 2.4 C 0.636487 2.4 1.246992 2.147121 1.697056 1.697056 C 2.147121 1.246992 2.4 0.636487 2.4 0 C 2.4 -0.636487 2.147121 -1.246992 1.697056 -1.697056 C 1.246992 -2.147121 0.636487 -2.4 0 -2.4 C -0.636487 -2.4 -1.246992 -2.147121 -1.697056 -1.697056 C -2.147121 -1.246992 -2.4 -0.636487 -2.4 0 C -2.4 0.636487 -2.147121 1.246992 -1.697056 1.697056 C -1.246992 2.147121 -0.636487 2.4 0 2.4 z" transform="translate(94.045608 158.006486)" style="fill: #0000ff; stroke: #0000ff; stroke: #0000ff"/>
     <path d="M 0 2.4 C 0.636487 2.4 1.246992 2.147121 1.697056 1.697056 C 2.147121 1.246992 2.4 0.636487 2.4 0 C 2.4 -0.636487 2.147121 -1.246992 1.697056 -1.697056 C 1.246992 -2.147121 0.636487 -2.4 0 -2.4 C -0.636487 -2.4 -1.246992 -2.147121 -1.697056 -1.697056 C -2.147121 -1.246992 -2.4 -0.636487 -2.4 0 C -2.4 0.636487 -2.147121 1.246992 -1.697056 1.697056 C -1.246992 2.147121 -0.636487 2.4 0 2.4 z" transform="translate(108.096847 165.123784)" style="fill: #0000ff; stroke: #0000ff; stroke: #0000ff"/>
     <path d="M 0 2.4 C 0.636487 2.4 1.246992 2.147121 1.697056 1.697056 C 2.147121 1.246992 2.4 0.636487 2.4 0 C 2.4 -0.636487 2.147121 -1.246992 1.697056 -1.697056 C 1.246992 -2.147121 0.636487 -2.4 0 -2.4 C -0.636487 -2.4 -1.246992 -2.147121 -1.697056 -1.697056 C -2.147121 -1.246992 -2.4 -0.636487 -2.4 0 C -2.4 0.636487 -2.147121 1.246992 -1.697056 1.697056 C -1.246992 2.147121 -0.636487 2.4 0 2.4 z" transform="translate(122.148086 162.720541)" style="fill: #0000ff; stroke: #0000ff; stroke: #0000ff"/>
     <path d="M 0 2.4 C 0.636487 2.4 1.246992 2.147121 1.697056 1.697056 C 2.147121 1.246992 2.4 0.636487 2.4 0 C 2.4 -0.636487 2.147121 -1.246992 1.697056 -1.697056 C 1.246992 -2.147121 0.636487 -2.4 0 -2.4 C -0.636487 -2.4 -1.246992 -2.147121 -1.697056 -1.697056 C -2.147121 -1.246992 -2.4 -0.636487 -2.4 0 C -2.4 0.636487 -2.147121 1.246992 -1.697056 1.697056 C -1.246992 2.147121 -0.636487 2.4 0 2.4 z" transform="translate(136.199324 163.644865)" style="fill: #0000ff; stroke: #0000ff; stroke: #0000ff"/>
     <path d="M 0 2.4 C 0.636487 2.4 1.246992 2.147121 1.697056 1.697056 C 2.147121 1.246992 2.4 0.636487 2.4 0 C 2.4 -0.636487 2.147121 -1.246992 1.697056 -1.697056 C 1.246992 -2.147121 0.636487 -2.4 0 -2.4 C -0.636487 -2.4 -1.246992 -2.147121 -1.697056 -1.697056 C -2.147121 -1.246992 -2.4 -0.636487 -2.4 0 C -2.4 0.636487 -2.147121 1.246992 -1.697056 1.697056 C -1.246992 2.147121 -0.636487 2.4 0 2.4 z" transform="translate(150.250563 165.123784)" style="fill: #0000ff; stroke: #0000ff; stroke: #0000ff"/>
     <path d="M 0 2.4 C 0.636487 2.4 1.246992 2.147121 1.697056 1.697056 C 2.147121 1.246992 2.4 0.636487 2.4 0 C 2.4 -0.636487 2.147121 -1.246992 1.697056 -1.697056 C 1.246992 -2.147121 0.636487 -2.4 0 -2.4 C -0.636487 -2.4 -1.246992 -2.147121 -1.697056 -1.697056 C -2.147121 -1.246992 -2.4 -0.636487 -2.4 0 C -2.4 0.636487 -2.147121 1.246992 -1.697056 1.697056 C -1.246992 2.147121 -0.636487 2.4 0 2.4 z" transform="translate(164.301802 156.527568)" style="fill: #0000ff; stroke: #0000ff; stroke: #0000ff"/>
     <path d="M 0 2.4 C 0.636487 2.4 1.246992 2.147121 1.697056 1.697056 C 2.147121 1.246992 2.4 0.636487 2.4 0 C 2.4 -0.636487 2.147121 -1.246992 1.697056 -1.697056 C 1.246992 -2.147121 0.636487 -2.4 0 -2.4 C -0.636487 -2.4 -1.246992 -2.147121 -1.697056 -1.697056 C -2.147121 -1.246992 -2.4 -0.636487 -2.4 0 C -2.4 0.636487 -2.147121 1.246992 -1.697056 1.697056 C -1.246992 2.147121 -0.636487 2.4 0 2.4 z" transform="translate(178.353041 147.931351)" style="fill: #0000ff; stroke: #0000ff; stroke: #0000ff"/>
     <path d="M 0 2.4 C 0.636487 2.4 1.246992 2.147121 1.697056 1.697056 C 2.147121 1.246992 2.4 0.636487 2.4 0 C 2.4 -0.636487 2.147121 -1.246992 1.697056 -1.697056 C 1.246992 -2.147121 0.636487 -2.4 0 -2.4 C -0.636487 -2.4 -1.246992 -2.147121 -1.697056 -1.697056 C -2.147121 -1.246992 -2.4 -0.636487 -2.4 0 C -2.4 0.636487 -2.147121 1.246992 -1.697056 1.697056 C -1.246992 2.147121 -0.636487 2.4 0 2.4 z" transform="translate(192.404279 111.79027)" style="fill: #0000ff; stroke: #0000ff; stroke: #0000ff"/>
     <path d="M 0 2.4 C 0.636487 2.4 1.246992 2.147121 1.697056 1.697056 C 2.147121 1.246992 2.4 0.636487 2.4 0 C 2.4 -0.636487 2.147121 -1.246992 1.697056 -1.697056 C 1.246992 -2.147121 0.636487 -2.4 0 -2.4 C -0.636487 -2.4 -1.246992 -2.147121 -1.697056 -1.697056 C -2.147121 -1.246992 -2.4 -0.636487 -2.4 0 C -2.4 0.636487 -2.147121 1.246992 -1.697056 1.697056 C -1.246992 2.147121 -0.636487 2.4 0 2.4 z" transform="translate(206.455518 107.168649)" style="fill: #0000ff; stroke: #0000ff; stroke: #0000ff"/>
     <path d="M 0 2.4 C 0.636487 2.4 1.246992 2.147121 1.697056 1.697056 C 2.147121 1.246992 2.4 0.636487 2.4 0 C 2.4 -0.636487 2.147121 -1.246992 1.697056 -1.697056 C 1.246992 -2.147121 0.636487 -2.4 0 -2.4 C -0.636487 -2.4 -1.246992 -2.147121 -1.697056 -1.697056 C -2.147121 -1.246992 -2.4 -0.636487 -2.4 0 C -2.4 0.636487 -2.147121 1.246992 -1.697056 1.697056 C -1.246992 2.147121 -0.636487 2.4 0 2.4 z" transform="translate(220.506757 96.631351)" style="fill: #0000ff; stroke: #0000ff; stroke: #0000ff"/>
     <path d="M 0 2.4 C 0.636487 2.4 1.246992 2.147121 1.697056 1.697056 C 2.147121 1.246992 2.4 0.636487 2.4 0 C 2.4 -0.636487 2.147121 -1.246992 1.697056 -1.697056 C 1.246992 -2.147121 0.636487 -2.4 0 -2.4 C -0.636487 -2.4 -1.246992 -2.147121 -1.697056 -1.697056 C -2.147121 -1.246992 -2.4 -0.636487 -2.4 0 C -2.4 0.636487 -2.147121 1.246992 -1.697056 1.697056 C -1.246992 2.147121 -0.636487 2.4 0 2.4 z" transform="translate(234.557995 95.799459)" style="fill: #0000ff; stroke: #0000ff; stroke: #0000ff"/>
     <path d="M 0 2.4 C 0.636487 2.4 1.246992 2.147121 1.697056 1.697056 C 2.147121 1.246992 2.4 0.636487 2.4 0 C 2.4 -0.636487 2.147121 -1.246992 1.697056 -1.697056 C 1.246992 -2.147121 0.636487 -2.4 0 -2.4 C -0.636487 -2.4 -1.246992 -2.147121 -1.697056 -1.697056 C -2.147121 -1.246992 -2.4 -0.636487 -2.4 0 C -2.4 0.636487 -2.147121 1.246992 -1.697056 1.697056 C -1.246992 2.147121 -0.636487 2.4 0 2.4 z" transform="translate(248.609234 82.027027)" style="fill: #0000ff; stroke: #0000ff; stroke: #0000ff"/>
     <path d="M 0 2.4 C 0.636487 2.4 1.246992 2.147121 1.697056 1.697056 C 2.147121 1.246992 2.4 0.636487 2.4 0 C 2.4 -0.636487 2.147121 -1.246992 1.697056 -1.697056 C 1.246992 -2.147121 0.636487 -2.4 0 -2.4 C -0.636487 -2.4 -1.246992 -2.147121 -1.697056 -1.697056 C -2.147121 -1.246992 -2.4 -0.636487 -2.4 0 C -2.4 0.636487 -2.147121 1.246992 -1.697056 1.697056 C -1.246992 2.147121 -0.636487 2.4 0 2.4 z" transform="translate(262.660473 66.868108)" style="fill: #0000ff; stroke: #0000ff; stroke: #0000ff"/>
     <path d="M 0 2.4 C 0.636487 2.4 1.246992 2.147121 1.697056 1.697056 C 2.147121 1.246992 2.4 0.636487 2.4 0 C 2.4 -0.636487 2.147121 -1.246992 1.697056 -1.697056 C 1.246992 -2.147121 0.636487 -2.4 0 -2.4 C -0.636487 -2.4 -1.246992 -2.147121 -1.697056 -1.697056 C -2.147121 -1.246992 -2.4 -0.636487 -2.4 0 C -2.4 0.636487 -2.147121 1.246992 -1.697056 1.697056 C -1.246992 2.147121 -0.636487 2.4 0 2.4 z" transform="translate(276.711712 60.120541)" style="fill: #0000ff; stroke: #0000ff; stroke: #0000ff"/>
     <path d="M 0 2.4 C 0.636487 2.4 1.246992 2.147121 1.697056 1.697056 C 2.147121 1.246992 2.4 0.636487 2.4 0 C 2.4 -0.636487 2.147121 -1.246992 1.697056 -1.697056 C 1.246992 -2.147121 0.636487 -2.4 0 -2.4 C -0.636487 -2.4 -1.246992 -2.147121 -1.697056 -1.697056 C -2.147121 -1.246992 -2.4 -0.636487 -2.4 0 C -2.4 0.636487 -2.147121 1.246992 -1.697056 1.697056 C -1.246992 2.147121 -0.636487 2.4 0 2.4 z" transform="translate(290.76295 55.036757)" style="fill: #0000ff; stroke: #0000ff; stroke: #0000ff"/>
     <path d="M 0 2.4 C 0.636487 2.4 1.246992 2.147121 1.697056 1.697056 C 2.147121 1.246992 2.4 0.636487 2.4 0 C 2.4 -0.636487 2.147121 -1.246992 1.697056 -1.697056 C 1.246992 -2.147121 0.636487 -2.4 0 -2.4 C -0.636487 -2.4 -1.246992 -2.147121 -1.697056 -1.697056 C -2.147121 -1.246992 -2.4 -0.636487 -2.4 0 C -2.4 0.636487 -2.147121 1.246992 -1.697056 1.697056 C -1.246992 2.147121 -0.636487 2.4 0 2.4 z" transform="translate(304.814189 52.448649)" style="fill: #0000ff; stroke: #0000ff; stroke: #0000ff"/>
     <path d="M 0 2.4 C 0.636487 2.4 1.246992 2.147121 1.697056 1.697056 C 2.147121 1.246992 2.4 0.636487 2.4 0 C 2.4 -0.636487 2.147121 -1.246992 1.697056 -1.697056 C 1.246992 -2.147121 0.636487 -2.4 0 -2.4 C -0.636487 -2.4 -1.246992 -2.147121 -1.697056 -1.697056 C -2.147121 -1.246992 -2.4 -0.636487 -2.4 0 C -2.4 0.636487 -2.147121 1.246992 -1.697056 1.697056 C -1.246992 2.147121 -0.636487 2.4 0 2.4 z" transform="translate(318.865428 51.524324)" style="fill: #0000ff; stroke: #0000ff; stroke: #0000ff"/>
     <path d="M 0 2.4 C 0.636487 2.4 1.246992 2.147121 1.697056 1.697056 C 2.147121 1.246992 2.4 0.636487 2.4 0 C 2.4 -0.636487 2.147121 -1.246992 1.697056 -1.697056 C 1.246992 -2.147121 0.636487 -2.4 0 -2.4 C -0.636487 -2.4 -1.246992 -2.147121 -1.697056 -1.697056 C -2.147121 -1.246992 -2.4 -0.636487 -2.4 0 C -2.4 0.636487 -2.147121 1.246992 -1.697056 1.697056 C -1.246992 2.147121 -0.636487 2.4 0 2.4 z" transform="translate(332.916667 37.012432)" style="fill: #0000ff; stroke: #0000ff; stroke: #0000ff"/>
     <path d="M 0 2.4 C 0.636487 2.4 1.246992 2.147121 1.697056 1.697056 C 2.147121 1.246992 2.4 0.636487 2.4 0 C 2.4 -0.636487 2.147121 -1.246992 1.697056 -1.697056 C 1.246992 -2.147121 0.636487 -2.4 0 -2.4 C -0.636487 -2.4 -1.246992 -2.147121 -1.697056 -1.697056 C -2.147121 -1.246992 -2.4 -0.636487 -2.4 0 C -2.4 0.636487 -2.147121 1.246992 -1.697056 1.697056 C -1.246992 2.147121 -0.636487 2.4 0 2.4 z" transform="translate(346.967905 36.180541)" style="fill: #0000ff; stroke: #0000ff; stroke: #0000ff"/>
     <path d="M 0 2.4 C 0.636487 2.4 1.246992 2.147121 1.697056 1.697056 C 2.147121 1.246992 2.4 0.636487 2.4 0 C 2.4 -0.636487 2.147121 -1.246992 1.697056 -1.697056 C 1.246992 -2.147121 0.636487 -2.4 0 -2.4 C -0.636487 -2.4 -1.246992 -2.147121 -1.697056 -1.697056 C -2.147121 -1.246992 -2.4 -0.636487 -2.4 0 C -2.4 0.636487 -2.147121 1.246992 -1.697056 1.697056 C -1.246992 2.147121 -0.636487 2.4 0 2.4 z" transform="translate(361.019144 30.357297)" style="fill: #0000ff; stroke: #0000ff; stroke: #0000ff"/>
     <path d="M 0 2.4 C 0.636487 2.4 1.246992 2.147121 1.697056 1.697056 C 2.147121 1.246992 2.4 0.636487 2.4 0 C 2.4 -0.636487 2.147121 -1.246992 1.697056 -1.697056 C 1.246992 -2.147121 0.636487 -2.4 0 -2.4 C -0.636487 -2.4 -1.246992 -2.147121 -1.697056 -1.697056 C -2.147121 -1.246992 -2.4 -0.636487 -2.4 0 C -2.4 0.636487 -2.147121 1.246992 -1.697056 1.697056 C -1.246992 2.147121 -0.636487 2.4 0 2.4 z" transform="translate(375.070383 40.432432)" style="fill: #0000ff; stroke: #0000ff; stroke: #0000ff"/>
     <path d="M 0 2.4 C 0.636487 2.4 1.246992 2.147121 1.697056 1.697056 C 2.147121 1.246992 2.4 0.636487 2.4 0 C 2.4 -0.636487 2.147121 -1.246992 1.697056 -1.697056 C 1.246992 -2.147121 0.636487 -2.4 0 -2.4 C -0.636487 -2.4 -1.246992 -2.147121 -1.697056 -1.697056 C -2.147121 -1.246992 -2.4 -0.636487 -2.4 0 C -2.4 0.636487 -2.147121 1.246992 -1.697056 1.697056 C -1.246992 2.147121 -0.636487 2.4 0 2.4 z" transform="translate(389.121622 44.037297)" style="fill: #0000ff; stroke: #0000ff; stroke: #0000ff"/>
     <path d="M 0 2.4 C 0.636487 2.4 1.246992 2.147121 1.697056 1.697056 C 2.147121 1.246992 2.4 0.636487 2.4 0 C 2.4 -0.636487 2.147121 -1.246992 1.697056 -1.697056 C 1.246992 -2.147121 0.636487 -2.4 0 -2.4 C -0.636487 -2.4 -1.246992 -2.147121 -1.697056 -1.697056 C -2.147121 -1.246992 -2.4 -0.636487 -2.4 0 C -2.4 0.636487 -2.147121 1.246992 -1.697056 1.697056 C -1.246992 2.147121 -0.636487 2.4 0 2.4 z" transform="translate(403.17286 48.011892)" style="fill: #0000ff; stroke: #0000ff; stroke: #0000ff"/>
     <path d="M 0 2.4 C 0.636487 2.4 1.246992 2.147121 1.697056 1.697056 C 2.147121 1.246992 2.4 0.636487 2.4 0 C 2.4 -0.636487 2.147121 -1.246992 1.697056 -1.697056 C 1.246992 -2.147121 0.636487 -2.4 0 -2.4 C -0.636487 -2.4 -1.246992 -2.147121 -1.697056 -1.697056 C -2.147121 -1.246992 -2.4 -0.636487 -2.4 0 C -2.4 0.636487 -2.147121 1.246992 -1.697056 1.697056 C -1.246992 2.147121 -0.636487 2.4 0 2.4 z" transform="translate(417.224099 43.39027)" style="fill: #0000ff; stroke: #0000ff; stroke: #0000ff"/>
     <path d="M 0 2.4 C 0.636487 2.4 1.246992 2.147121 1.697056 1.697056 C 2.147121 1.246992 2.4 0.636487 2.4 0 C 2.4 -0.636487 2.147121 -1.246992 1.697056 -1.697056 C 1.246992 -2.147121 0.636487 -2.4 0 -2.4 C -0.636487 -2.4 -1.246992 -2.147121 -1.697056 -1.697056 C -2.147121 -1.246992 -2.4 -0.636487 -2.4 0 C -2.4 0.636487 -2.147121 1.246992 -1.697056 1.697056 C -1.246992 2.147121 -0.636487 2.4 0 2.4 z" transform="translate(431.275338 47.272432)" style="fill: #0000ff; stroke: #0000ff; stroke: #0000ff"/>
     <path d="M 0 2.4 C 0.636487 2.4 1.246992 2.147121 1.697056 1.697056 C 2.147121 1.246992 2.4 0.636487 2.4 0 C 2.4 -0.636487 2.147121 -1.246992 1.697056 -1.697056 C 1.246992 -2.147121 0.636487 -2.4 0 -2.4 C -0.636487 -2.4 -1.246992 -2.147121 -1.697056 -1.697056 C -2.147121 -1.246992 -2.4 -0.636487 -2.4 0 C -2.4 0.636487 -2.147121 1.246992 -1.697056 1.697056 C -1.246992 2.147121 -0.636487 2.4 0 2.4 z" transform="translate(445.326577 51.524324)" style="fill: #0000ff; stroke: #0000ff; stroke: #0000ff"/>
     <path d="M 0 2.4 C 0.636487 2.4 1.246992 2.147121 1.697056 1.697056 C 2.147121 1.246992 2.4 0.636487 2.4 0 C 2.4 -0.636487 2.147121 -1.246992 1.697056 -1.697056 C 1.246992 -2.147121 0.636487 -2.4 0 -2.4 C -0.636487 -2.4 -1.246992 -2.147121 -1.697056 -1.697056 C -2.147121 -1.246992 -2.4 -0.636487 -2.4 0 C -2.4 0.636487 -2.147121 1.246992 -1.697056 1.697056 C -1.246992 2.147121 -0.636487 2.4 0 2.4 z" transform="translate(459.377815 54.667027)" style="fill: #0000ff; stroke: #0000ff; stroke: #0000ff"/>
     <path d="M 0 2.4 C 0.636487 2.4 1.246992 2.147121 1.697056 1.697056 C 2.147121 1.246992 2.4 0.636487 2.4 0 C 2.4 -0.636487 2.147121 -1.246992 1.697056 -1.697056 C 1.246992 -2.147121 0.636487 -2.4 0 -2.4 C -0.636487 -2.4 -1.246992 -2.147121 -1.697056 -1.697056 C -2.147121 -1.246992 -2.4 -0.636487 -2.4 0 C -2.4 0.636487 -2.147121 1.246992 -1.697056 1.697056 C -1.246992 2.147121 -0.636487 2.4 0 2.4 z" transform="translate(473.429054 64.095135)" style="fill: #0000ff; stroke: #0000ff; stroke: #0000ff"/>
     <path d="M 0 2.4 C 0.636487 2.4 1.246992 2.147121 1.697056 1.697056 C 2.147121 1.246992 2.4 0.636487 2.4 0 C 2.4 -0.636487 2.147121 -1.246992 1.697056 -1.697056 C 1.246992 -2.147121 0.636487 -2.4 0 -2.4 C -0.636487 -2.4 -1.246992 -2.147121 -1.697056 -1.697056 C -2.147121 -1.246992 -2.4 -0.636487 -2.4 0 C -2.4 0.636487 -2.147121 1.246992 -1.697056 1.697056 C -1.246992 2.147121 -0.636487 2.4 0 2.4 z" transform="translate(487.480293 65.574054)" style="fill: #0000ff; stroke: #0000ff; stroke: #0000ff"/>
     <path d="M 0 2.4 C 0.636487 2.4 1.246992 2.147121 1.697056 1.697056 C 2.147121 1.246992 2.4 0.636487 2.4 0 C 2.4 -0.636487 2.147121 -1.246992 1.697056 -1.697056 C 1.246992 -2.147121 0.636487 -2.4 0 -2.4 C -0.636487 -2.4 -1.246992 -2.147121 -1.697056 -1.697056 C -2.147121 -1.246992 -2.4 -0.636487 -2.4 0 C -2.4 0.636487 -2.147121 1.246992 -1.697056 1.697056 C -1.246992 2.147121 -0.636487 2.4 0 2.4 z" transform="translate(501.531532 71.951892)" style="fill: #0000ff; stroke: #0000ff; stroke: #0000ff"/>
     <path d="M 0 2.4 C 0.636487 2.4 1.246992 2.147121 1.697056 1.697056 C 2.147121 1.246992 2.4 0.636487 2.4 0 C 2.4 -0.636487 2.147121 -1.246992 1.697056 -1.697056 C 1.246992 -2.147121 0.636487 -2.4 0 -2.4 C -0.636487 -2.4 -1.246992 -2.147121 -1.697056 -1.697056 C -2.147121 -1.246992 -2.4 -0.636487 -2.4 0 C -2.4 0.636487 -2.147121 1.246992 -1.697056 1.697056 C -1.246992 2.147121 -0.636487 2.4 0 2.4 z" transform="translate(515.58277 70.380541)" style="fill: #0000ff; stroke: #0000ff; stroke: #0000ff"/>
     <path d="M 0 2.4 C 0.636487 2.4 1.246992 2.147121 1.697056 1.697056 C 2.147121 1.246992 2.4 0.636487 2.4 0 C 2.4 -0.636487 2.147121 -1.246992 1.697056 -1.697056 C 1.246992 -2.147121 0.636487 -2.4 0 -2.4 C -0.636487 -2.4 -1.246992 -2.147121 -1.697056 -1.697056 C -2.147121 -1.246992 -2.4 -0.636487 -2.4 0 C -2.4 0.636487 -2.147121 1.246992 -1.697056 1.697056 C -1.246992 2.147121 -0.636487 2.4 0 2.4 z" transform="translate(529.634009 66.498378)" style="fill: #0000ff; stroke: #0000ff; stroke: #0000ff"/>
     <path d="M 0 2.4 C 0.636487 2.4 1.246992 2.147121 1.697056 1.697056 C 2.147121 1.246992 2.4 0.636487 2.4 0 C 2.4 -0.636487 2.147121 -1.246992 1.697056 -1.697056 C 1.246992 -2.147121 0.636487 -2.4 0 -2.4 C -0.636487 -2.4 -1.246992 -2.147121 -1.697056 -1.697056 C -2.147121 -1.246992 -2.4 -0.636487 -2.4 0 C -2.4 0.636487 -2.147121 1.246992 -1.697056 1.697056 C -1.246992 2.147121 -0.636487 2.4 0 2.4 z" transform="translate(543.685248 58.641622)" style="fill: #0000ff; stroke: #0000ff; stroke: #0000ff"/>
     <path d="M 0 2.4 C 0.636487 2.4 1.246992 2.147121 1.697056 1.697056 C 2.147121 1.246992 2.4 0.636487 2.4 0 C 2.4 -0.636487 2.147121 -1.246992 1.697056 -1.697056 C 1.246992 -2.147121 0.636487 -2.4 0 -2.4 C -0.636487 -2.4 -1.246992 -2.147121 -1.697056 -1.697056 C -2.147121 -1.246992 -2.4 -0.636487 -2.4 0 C -2.4 0.636487 -2.147121 1.246992 -1.697056 1.697056 C -1.246992 2.147121 -0.636487 2.4 0 2.4 z" transform="translate(557.736486 55.961081)" style="fill: #0000ff; stroke: #0000ff; stroke: #0000ff"/>
     <path d="M 0 2.4 C 0.636487 2.4 1.246992 2.147121 1.697056 1.697056 C 2.147121 1.246992 2.4 0.636487 2.4 0 C 2.4 -0.636487 2.147121 -1.246992 1.697056 -1.697056 C 1.246992 -2.147121 0.636487 -2.4 0 -2.4 C -0.636487 -2.4 -1.246992 -2.147121 -1.697056 -1.697056 C -2.147121 -1.246992 -2.4 -0.636487 -2.4 0 C -2.4 0.636487 -2.147121 1.246992 -1.697056 1.697056 C -1.246992 2.147121 -0.636487 2.4 0 2.4 z" transform="translate(571.787725 62.523784)" style="fill: #0000ff; stroke: #0000ff; stroke: #0000ff"/>
     <path d="M 0 2.4 C 0.636487 2.4 1.246992 2.147121 1.697056 1.697056 C 2.147121 1.246992 2.4 0.636487 2.4 0 C 2.4 -0.636487 2.147121 -1.246992 1.697056 -1.697056 C 1.246992 -2.147121 0.636487 -2.4 0 -2.4 C -0.636487 -2.4 -1.246992 -2.147121 -1.697056 -1.697056 C -2.147121 -1.246992 -2.4 -0.636487 -2.4 0 C -2.4 0.636487 -2.147121 1.246992 -1.697056 1.697056 C -1.246992 2.147121 -0.636487 2.4 0 2.4 z" transform="translate(585.838964 71.12)" style="fill: #0000ff; stroke: #0000ff; stroke: #0000ff"/>
     <path d="M 0 2.4 C 0.636487 2.4 1.246992 2.147121 1.697056 1.697056 C 2.147121 1.246992 2.4 0.636487 2.4 0 C 2.4 -0.636487 2.147121 -1.246992 1.697056 -1.697056 C 1.246992 -2.147121 0.636487 -2.4 0 -2.4 C -0.636487 -2.4 -1.246992 -2.147121 -1.697056 -1.697056 C -2.147121 -1.246992 -2.4 -0.636487 -2.4 0 C -2.4 0.636487 -2.147121 1.246992 -1.697056 1.697056 C -1.246992 2.147121 -0.636487 2.4 0 2.4 z" transform="translate(599.890203 84.152973)" style="fill: #0000ff; stroke: #0000ff; stroke: #0000ff"/>
     <path d="M 0 2.4 C 0.636487 2.4 1.246992 2.147121 1.697056 1.697056 C 2.147121 1.246992 2.4 0.636487 2.4 0 C 2.4 -0.636487 2.147121 -1.246992 1.697056 -1.697056 C 1.246992 -2.147121 0.636487 -2.4 0 -2.4 C -0.636487 -2.4 -1.246992 -2.147121 -1.697056 -1.697056 C -2.147121 -1.246992 -2.4 -0.636487 -2.4 0 C -2.4 0.636487 -2.147121 1.246992 -1.697056 1.697056 C -1.246992 2.147121 -0.636487 2.4 0 2.4 z" transform="translate(613.941441 97.093514)" style="fill: #0000ff; stroke: #0000ff; stroke: #0000ff"/>
     <path d="M 0 2.4 C 0.636487 2.4 1.246992 2.147121 1.697056 1.697056 C 2.147121 1.246992 2.4 0.636487 2.4 0 C 2.4 -0.636487 2.147121 -1.246992 1.697056 -1.697056 C 1.246992 -2.147121 0.636487 -2.4 0 -2.4 C -0.636487 -2.4 -1.246992 -2.147121 -1.697056 -1.697056 C -2.147121 -1.246992 -2.4 -0.636487 -2.4 0 C -2.4 0.636487 -2.147121 1.246992 -1.697056 1.697056 C -1.246992 2.147121 -0.636487 2.4 0 2.4 z" transform="translate(627.99268 108.74)" style="fill: #0000ff; stroke: #0000ff; stroke: #0000ff"/>
     <path d="M 0 2.4 C 0.636487 2.4 1.246992 2.147121 1.697056 1.697056 C 2.147121 1.246992 2.4 0.636487 2.4 0 C 2.4 -0.636487 2.147121 -1.246992 1.697056 -1.697056 C 1.246992 -2.147121 0.636487 -2.4 0 -2.4 C -0.636487 -2.4 -1.246992 -2.147121 -1.697056 -1.697056 C -2.147121 -1.246992 -2.4 -0.636487 -2.4 0 C -2.4 0.636487 -2.147121 1.246992 -1.697056 1.697056 C -1.246992 2.147121 -0.636487 2.4 0 2.4 z" transform="translate(642.043919 121.495676)" style="fill: #0000ff; stroke: #0000ff; stroke: #0000ff"/>
     <path d="M 0 2.4 C 0.636487 2.4 1.246992 2.147121 1.697056 1.697056 C 2.147121 1.246992 2.4 0.636487 2.4 0 C 2.4 -0.636487 2.147121 -1.246992 1.697056 -1.697056 C 1.246992 -2.147121 0.636487 -2.4 0 -2.4 C -0.636487 -2.4 -1.246992 -2.147121 -1.697056 -1.697056 C -2.147121 -1.246992 -2.4 -0.636487 -2.4 0 C -2.4 0.636487 -2.147121 1.246992 -1.697056 1.697056 C -1.246992 2.147121 -0.636487 2.4 0 2.4 z" transform="translate(656.095158 129.075135)" style="fill: #0000ff; stroke: #0000ff; stroke: #0000ff"/>
     <path d="M 0 2.4 C 0.636487 2.4 1.246992 2.147121 1.697056 1.697056 C 2.147121 1.246992 2.4 0.636487 2.4 0 C 2.4 -0.636487 2.147121 -1.246992 1.697056 -1.697056 C 1.246992 -2.147121 0.636487 -2.4 0 -2.4 C -0.636487 -2.4 -1.246992 -2.147121 -1.697056 -1.697056 C -2.147121 -1.246992 -2.4 -0.636487 -2.4 0 C -2.4 0.636487 -2.147121 1.246992 -1.697056 1.697056 C -1.246992 2.147121 -0.636487 2.4 0 2.4 z" transform="translate(670.146396 153.107568)" style="fill: #0000ff; stroke: #0000ff; stroke: #0000ff"/>
     <path d="M 0 2.4 C 0.636487 2.4 1.246992 2.147121 1.697056 1.697056 C 2.147121 1.246992 2.4 0.636487 2.4 0 C 2.4 -0.636487 2.147121 -1.246992 1.697056 -1.697056 C 1.246992 -2.147121 0.636487 -2.4 0 -2.4 C -0.636487 -2.4 -1.246992 -2.147121 -1.697056 -1.697056 C -2.147121 -1.246992 -2.4 -0.636487 -2.4 0 C -2.4 0.636487 -2.147121 1.246992 -1.697056 1.697056 C -1.246992 2.147121 -0.636487 2.4 0 2.4 z" transform="translate(684.197635 158.930811)" style="fill: #0000ff; stroke: #0000ff; stroke: #0000ff"/>
     <path d="M 0 2.4 C 0.636487 2.4 1.246992 2.147121 1.697056 1.697056 C 2.147121 1.246992 2.4 0.636487 2.4 0 C 2.4 -0.636487 2.147121 -1.246992 1.697056 -1.697056 C 1.246992 -2.147121 0.636487 -2.4 0 -2.4 C -0.636487 -2.4 -1.246992 -2.147121 -1.697056 -1.697056 C -2.147121 -1.246992 -2.4 -0.636487 -2.4 0 C -2.4 0.636487 -2.147121 1.246992 -1.697056 1.697056 C -1.246992 2.147121 -0.636487 2.4 0 2.4 z" transform="translate(698.248874 165.401081)" style="fill: #0000ff; stroke: #0000ff; stroke: #0000ff"/>
     <path d="M 0 2.4 C 0.636487 2.4 1.246992 2.147121 1.697056 1.697056 C 2.147121 1.246992 2.4 0.636487 2.4 0 C 2.4 -0.636487 2.147121 -1.246992 1.697056 -1.697056 C 1.246992 -2.147121 0.636487 -2.4 0 -2.4 C -0.636487 -2.4 -1.246992 -2.147121 -1.697056 -1.697056 C -2.147121 -1.246992 -2.4 -0.636487 -2.4 0 C -2.4 0.636487 -2.147121 1.246992 -1.697056 1.697056 C -1.246992 2.147121 -0.636487 2.4 0 2.4 z" transform="translate(712.300113 167.527027)" style="fill: #0000ff; stroke: #0000ff; stroke: #0000ff"/>
    </g>
   </g>
   <g id="patch_3">
    <path d="M 51.891892 178.783784 
L 51.891892 10.067568 
" style="fill: none; stroke: #000000; stroke-width: 1.1; stroke-linejoin: miter; stroke-linecap: square"/>
   </g>
   <g id="patch_4">
    <path d="M 726.351351 178.783784 
L 726.351351 10.067568 
" style="fill: none; stroke: #000000; stroke-width: 1.1; stroke-linejoin: miter; stroke-linecap: square"/>
   </g>
   <g id="patch_5">
    <path d="M 51.891892 178.783784 
L 726.351351 178.783784 
" style="fill: none; stroke: #000000; stroke-width: 1.1; stroke-linejoin: miter; stroke-linecap: square"/>
   </g>
   <g id="patch_6">
    <path d="M 51.891892 10.067568 
L 726.351351 10.067568 
" style="fill: none; stroke: #000000; stroke-width: 1.1; stroke-linejoin: miter; stroke-linecap: square"/>
   </g>
   <g id="legend_1">
    <g id="patch_7">
     <path d="M 609.716976 48.423818 
L 720.151351 48.423818 
Q 722.151351 48.423818 722.151351 46.423818 
L 722.151351 16.267568 
Q 722.151351 14.267568 720.151351 14.267568 
L 609.716976 14.267568 
Q 607.716976 14.267568 607.716976 16.267568 
L 607.716976 46.423818 
Q 607.716976 48.423818 609.716976 48.423818 
z
" style="fill: #ffffff; opacity: 0.8; stroke: #cccccc; stroke-linejoin: miter"/>
    </g><g transform="translate(0 1.216)">
    <g id="line2d_45">
     <path d="M 612.216976 22.866005 
L 622.216976 22.866005 
L 632.216976 22.866005 
" style="fill: none; stroke-dasharray: 9.6,2.4,1.5,2.4; stroke-dashoffset: 0; stroke: #ff0000; stroke-width: 2"/>
     <g>
      <path d="M -2.4 2.4 L 2.4 -2.4 M -2.4 -2.4 L 2.4 2.4" transform="translate(622.216976 22.866005)" style="fill: #ff0000; stroke: #ff0000; stroke-width: 1.2; stroke: #ff0000; stroke-width: 1.2"/>
     </g>
    </g>
    <g id="text_23">
     <text style="font-size: 10px; font-family: 'DejaVu Sans'; text-anchor: start" x="640.216976" y="26.366005" transform="rotate(-0 640.216976 26.366005)">Predicted value</text>
    </g>
    <g id="line2d_46">
     <path d="M 612.216976 38.34413 
L 622.216976 38.34413 
L 632.216976 38.34413 
" style="fill: none; stroke: #0000ff; stroke-width: 2; stroke-linecap: square"/>
     <g>
      <path d="M 0 2.4 C 0.636487 2.4 1.246992 2.147121 1.697056 1.697056 C 2.147121 1.246992 2.4 0.636487 2.4 0 C 2.4 -0.636487 2.147121 -1.246992 1.697056 -1.697056 C 1.246992 -2.147121 0.636487 -2.4 0 -2.4 C -0.636487 -2.4 -1.246992 -2.147121 -1.697056 -1.697056 C -2.147121 -1.246992 -2.4 -0.636487 -2.4 0 C -2.4 0.636487 -2.147121 1.246992 -1.697056 1.697056 C -1.246992 2.147121 -0.636487 2.4 0 2.4 z" transform="translate(622.216976 38.34413)" style="fill: #0000ff; stroke: #0000ff; stroke: #0000ff"/>
     </g>
    </g>
    <g id="text_24">
     <text style="font-size: 10px; font-family: 'DejaVu Sans'; text-anchor: start" x="640.216976" y="41.84413" transform="rotate(-0 640.216976 41.84413)">Actual value</text>
    </g>
   </g></g>
  </g>
  <g id="axes_2">
   <g id="patch_8">
    <path d="M 51.891892 380.540541 
L 726.351351 380.540541 
L 726.351351 211.756757 
L 51.891892 211.756757 
z
" style="fill: #ffffff"/>
   </g>
   <g id="matplotlib.axis_3">
    <g id="xtick_14">
     <g id="line2d_47">
      <path d="M 51.891892 380.540541 
L 51.891892 211.756757 
" clip-path="url(#pb03964c44d)" style="fill: none; stroke-dasharray: 5.55,2.4; stroke-dashoffset: 0; stroke: #b0b0b0; stroke-opacity: 0.24; stroke-width: 1.5"/>
     </g>
     <g id="line2d_48">
      <g>
       <path d="M 0 0 L 0 3" transform="translate(51.891892 380.540541)" style="stroke: #000000; stroke-width: 2; stroke: #000000; stroke-width: 2"/>
      </g>
     </g>
     <g id="text_25">
      <text style="font-size: 10px; font-family: 'DejaVu Sans'; text-anchor: middle" x="51.891892" y="396.538978" transform="rotate(-0 51.891892 396.538978)">0</text>
     </g>
    </g>
    <g id="xtick_15">
     <g id="line2d_49">
      <path d="M 100.067568 380.540541 
L 100.067568 211.756757 
" clip-path="url(#pb03964c44d)" style="fill: none; stroke-dasharray: 5.55,2.4; stroke-dashoffset: 0; stroke: #b0b0b0; stroke-opacity: 0.24; stroke-width: 1.5"/>
     </g>
     <g id="line2d_50">
      <g>
       <path d="M 0 0 L 0 3" transform="translate(100.067568 380.540541)" style="stroke: #000000; stroke-width: 2; stroke: #000000; stroke-width: 2"/>
      </g>
     </g>
     <g id="text_26">
      <text style="font-size: 10px; font-family: 'DejaVu Sans'; text-anchor: middle" x="100.067568" y="396.538978" transform="rotate(-0 100.067568 396.538978)">24</text>
     </g>
    </g>
    <g id="xtick_16">
     <g id="line2d_51">
      <path d="M 148.243243 380.540541 
L 148.243243 211.756757 
" clip-path="url(#pb03964c44d)" style="fill: none; stroke-dasharray: 5.55,2.4; stroke-dashoffset: 0; stroke: #b0b0b0; stroke-opacity: 0.24; stroke-width: 1.5"/>
     </g>
     <g id="line2d_52">
      <g>
       <path d="M 0 0 L 0 3" transform="translate(148.243243 380.540541)" style="stroke: #000000; stroke-width: 2; stroke: #000000; stroke-width: 2"/>
      </g>
     </g>
     <g id="text_27">
      <text style="font-size: 10px; font-family: 'DejaVu Sans'; text-anchor: middle" x="148.243243" y="396.538978" transform="rotate(-0 148.243243 396.538978)">48</text>
     </g>
    </g>
    <g id="xtick_17">
     <g id="line2d_53">
      <path d="M 196.418919 380.540541 
L 196.418919 211.756757 
" clip-path="url(#pb03964c44d)" style="fill: none; stroke-dasharray: 5.55,2.4; stroke-dashoffset: 0; stroke: #b0b0b0; stroke-opacity: 0.24; stroke-width: 1.5"/>
     </g>
     <g id="line2d_54">
      <g>
       <path d="M 0 0 L 0 3" transform="translate(196.418919 380.540541)" style="stroke: #000000; stroke-width: 2; stroke: #000000; stroke-width: 2"/>
      </g>
     </g>
     <g id="text_28">
      <text style="font-size: 10px; font-family: 'DejaVu Sans'; text-anchor: middle" x="196.418919" y="396.538978" transform="rotate(-0 196.418919 396.538978)">72</text>
     </g>
    </g>
    <g id="xtick_18">
     <g id="line2d_55">
      <path d="M 244.594595 380.540541 
L 244.594595 211.756757 
" clip-path="url(#pb03964c44d)" style="fill: none; stroke-dasharray: 5.55,2.4; stroke-dashoffset: 0; stroke: #b0b0b0; stroke-opacity: 0.24; stroke-width: 1.5"/>
     </g>
     <g id="line2d_56">
      <g>
       <path d="M 0 0 L 0 3" transform="translate(244.594595 380.540541)" style="stroke: #000000; stroke-width: 2; stroke: #000000; stroke-width: 2"/>
      </g>
     </g>
     <g id="text_29">
      <text style="font-size: 10px; font-family: 'DejaVu Sans'; text-anchor: middle" x="244.594595" y="396.538978" transform="rotate(-0 244.594595 396.538978)">96</text>
     </g>
    </g>
    <g id="xtick_19">
     <g id="line2d_57">
      <path d="M 292.77027 380.540541 
L 292.77027 211.756757 
" clip-path="url(#pb03964c44d)" style="fill: none; stroke-dasharray: 5.55,2.4; stroke-dashoffset: 0; stroke: #b0b0b0; stroke-opacity: 0.24; stroke-width: 1.5"/>
     </g>
     <g id="line2d_58">
      <g>
       <path d="M 0 0 L 0 3" transform="translate(292.77027 380.540541)" style="stroke: #000000; stroke-width: 2; stroke: #000000; stroke-width: 2"/>
      </g>
     </g>
     <g id="text_30">
      <text style="font-size: 10px; font-family: 'DejaVu Sans'; text-anchor: middle" x="292.77027" y="396.538978" transform="rotate(-0 292.77027 396.538978)">120</text>
     </g>
    </g>
    <g id="xtick_20">
     <g id="line2d_59">
      <path d="M 340.945946 380.540541 
L 340.945946 211.756757 
" clip-path="url(#pb03964c44d)" style="fill: none; stroke-dasharray: 5.55,2.4; stroke-dashoffset: 0; stroke: #b0b0b0; stroke-opacity: 0.24; stroke-width: 1.5"/>
     </g>
     <g id="line2d_60">
      <g>
       <path d="M 0 0 L 0 3" transform="translate(340.945946 380.540541)" style="stroke: #000000; stroke-width: 2; stroke: #000000; stroke-width: 2"/>
      </g>
     </g>
     <g id="text_31">
      <text style="font-size: 10px; font-family: 'DejaVu Sans'; text-anchor: middle" x="340.945946" y="396.538978" transform="rotate(-0 340.945946 396.538978)">144</text>
     </g>
    </g>
    <g id="xtick_21">
     <g id="line2d_61">
      <path d="M 389.121622 380.540541 
L 389.121622 211.756757 
" clip-path="url(#pb03964c44d)" style="fill: none; stroke-dasharray: 5.55,2.4; stroke-dashoffset: 0; stroke: #b0b0b0; stroke-opacity: 0.24; stroke-width: 1.5"/>
     </g>
     <g id="line2d_62">
      <g>
       <path d="M 0 0 L 0 3" transform="translate(389.121622 380.540541)" style="stroke: #000000; stroke-width: 2; stroke: #000000; stroke-width: 2"/>
      </g>
     </g>
     <g id="text_32">
      <text style="font-size: 10px; font-family: 'DejaVu Sans'; text-anchor: middle" x="389.121622" y="396.538978" transform="rotate(-0 389.121622 396.538978)">168</text>
     </g>
    </g>
    <g id="xtick_22">
     <g id="line2d_63">
      <path d="M 437.297297 380.540541 
L 437.297297 211.756757 
" clip-path="url(#pb03964c44d)" style="fill: none; stroke-dasharray: 5.55,2.4; stroke-dashoffset: 0; stroke: #b0b0b0; stroke-opacity: 0.24; stroke-width: 1.5"/>
     </g>
     <g id="line2d_64">
      <g>
       <path d="M 0 0 L 0 3" transform="translate(437.297297 380.540541)" style="stroke: #000000; stroke-width: 2; stroke: #000000; stroke-width: 2"/>
      </g>
     </g>
     <g id="text_33">
      <text style="font-size: 10px; font-family: 'DejaVu Sans'; text-anchor: middle" x="437.297297" y="396.538978" transform="rotate(-0 437.297297 396.538978)">192</text>
     </g>
    </g>
    <g id="xtick_23">
     <g id="line2d_65">
      <path d="M 485.472973 380.540541 
L 485.472973 211.756757 
" clip-path="url(#pb03964c44d)" style="fill: none; stroke-dasharray: 5.55,2.4; stroke-dashoffset: 0; stroke: #b0b0b0; stroke-opacity: 0.24; stroke-width: 1.5"/>
     </g>
     <g id="line2d_66">
      <g>
       <path d="M 0 0 L 0 3" transform="translate(485.472973 380.540541)" style="stroke: #000000; stroke-width: 2; stroke: #000000; stroke-width: 2"/>
      </g>
     </g>
     <g id="text_34">
      <text style="font-size: 10px; font-family: 'DejaVu Sans'; text-anchor: middle" x="485.472973" y="396.538978" transform="rotate(-0 485.472973 396.538978)">216</text>
     </g>
    </g>
    <g id="xtick_24">
     <g id="line2d_67">
      <path d="M 533.648649 380.540541 
L 533.648649 211.756757 
" clip-path="url(#pb03964c44d)" style="fill: none; stroke-dasharray: 5.55,2.4; stroke-dashoffset: 0; stroke: #b0b0b0; stroke-opacity: 0.24; stroke-width: 1.5"/>
     </g>
     <g id="line2d_68">
      <g>
       <path d="M 0 0 L 0 3" transform="translate(533.648649 380.540541)" style="stroke: #000000; stroke-width: 2; stroke: #000000; stroke-width: 2"/>
      </g>
     </g>
     <g id="text_35">
      <text style="font-size: 10px; font-family: 'DejaVu Sans'; text-anchor: middle" x="533.648649" y="396.538978" transform="rotate(-0 533.648649 396.538978)">240</text>
     </g>
    </g>
    <g id="xtick_25">
     <g id="line2d_69">
      <path d="M 581.824324 380.540541 
L 581.824324 211.756757 
" clip-path="url(#pb03964c44d)" style="fill: none; stroke-dasharray: 5.55,2.4; stroke-dashoffset: 0; stroke: #b0b0b0; stroke-opacity: 0.24; stroke-width: 1.5"/>
     </g>
     <g id="line2d_70">
      <g>
       <path d="M 0 0 L 0 3" transform="translate(581.824324 380.540541)" style="stroke: #000000; stroke-width: 2; stroke: #000000; stroke-width: 2"/>
      </g>
     </g>
     <g id="text_36">
      <text style="font-size: 10px; font-family: 'DejaVu Sans'; text-anchor: middle" x="581.824324" y="396.538978" transform="rotate(-0 581.824324 396.538978)">264</text>
     </g>
    </g>
    <g id="xtick_26">
     <g id="line2d_71">
      <path d="M 630 380.540541 
L 630 211.756757 
" clip-path="url(#pb03964c44d)" style="fill: none; stroke-dasharray: 5.55,2.4; stroke-dashoffset: 0; stroke: #b0b0b0; stroke-opacity: 0.24; stroke-width: 1.5"/>
     </g>
     <g id="line2d_72">
      <g>
       <path d="M 0 0 L 0 3" transform="translate(630 380.540541)" style="stroke: #000000; stroke-width: 2; stroke: #000000; stroke-width: 2"/>
      </g>
     </g>
     <g id="text_37">
      <text style="font-size: 10px; font-family: 'DejaVu Sans'; text-anchor: middle" x="630" y="396.538978" transform="rotate(-0 630 396.538978)">288</text>
     </g>
    </g>
    <g id="xtick_27">
     <g id="line2d_73">
      <path d="M 678.175676 380.540541 
L 678.175676 211.756757 
" clip-path="url(#pb03964c44d)" style="fill: none; stroke-dasharray: 5.55,2.4; stroke-dashoffset: 0; stroke: #b0b0b0; stroke-opacity: 0.24; stroke-width: 1.5"/>
     </g>
     <g id="line2d_74">
      <g>
       <path d="M 0 0 L 0 3" transform="translate(678.175676 380.540541)" style="stroke: #000000; stroke-width: 2; stroke: #000000; stroke-width: 2"/>
      </g>
     </g>
     <g id="text_38">
      <text style="font-size: 10px; font-family: 'DejaVu Sans'; text-anchor: middle" x="678.175676" y="396.538978" transform="rotate(-0 678.175676 396.538978)">312</text>
     </g>
    </g>
    <g id="xtick_28">
     <g id="line2d_75">
      <path d="M 726.351351 380.540541 
L 726.351351 211.756757 
" clip-path="url(#pb03964c44d)" style="fill: none; stroke-dasharray: 5.55,2.4; stroke-dashoffset: 0; stroke: #b0b0b0; stroke-opacity: 0.24; stroke-width: 1.5"/>
     </g>
     <g id="line2d_76">
      <g>
       <path d="M 0 0 L 0 3" transform="translate(726.351351 380.540541)" style="stroke: #000000; stroke-width: 2; stroke: #000000; stroke-width: 2"/>
      </g>
     </g>
     <g id="text_39">
      <text style="font-size: 10px; font-family: 'DejaVu Sans'; text-anchor: middle" x="726.351351" y="396.538978" transform="rotate(-0 726.351351 396.538978)">336</text>
     </g>
    </g>
   </g>
   <g id="matplotlib.axis_4">
    <g id="ytick_9">
     <g id="line2d_77">
      <path d="M 51.891892 358.750831 
L 726.351351 358.750831 
" clip-path="url(#pb03964c44d)" style="fill: none; stroke-dasharray: 5.55,2.4; stroke-dashoffset: 0; stroke: #b0b0b0; stroke-opacity: 0.24; stroke-width: 1.5"/>
     </g>
     <g id="line2d_78">
      <g>
       <path d="M 0 0 L -4.5 0" transform="translate(51.891892 358.750831)" style="stroke: #000000; stroke-width: 2; stroke: #000000; stroke-width: 2"/>
      </g>
     </g>
     <g id="text_40">
      <text style="font-size: 10px; font-family: 'DejaVu Sans'; text-anchor: end" x="43.891892" y="362.550049" transform="rotate(-0 43.891892 362.550049)">3500</text>
     </g>
    </g>
    <g id="ytick_10">
     <g id="line2d_79">
      <path d="M 51.891892 324.16399 
L 726.351351 324.16399 
" clip-path="url(#pb03964c44d)" style="fill: none; stroke-dasharray: 5.55,2.4; stroke-dashoffset: 0; stroke: #b0b0b0; stroke-opacity: 0.24; stroke-width: 1.5"/>
     </g>
     <g id="line2d_80">
      <g>
       <path d="M 0 0 L -4.5 0" transform="translate(51.891892 324.16399)" style="stroke: #000000; stroke-width: 2; stroke: #000000; stroke-width: 2"/>
      </g>
     </g>
     <g id="text_41">
      <text style="font-size: 10px; font-family: 'DejaVu Sans'; text-anchor: end" x="43.891892" y="327.963209" transform="rotate(-0 43.891892 327.963209)">4000</text>
     </g>
    </g>
    <g id="ytick_11">
     <g id="line2d_81">
      <path d="M 51.891892 289.577149 
L 726.351351 289.577149 
" clip-path="url(#pb03964c44d)" style="fill: none; stroke-dasharray: 5.55,2.4; stroke-dashoffset: 0; stroke: #b0b0b0; stroke-opacity: 0.24; stroke-width: 1.5"/>
     </g>
     <g id="line2d_82">
      <g>
       <path d="M 0 0 L -4.5 0" transform="translate(51.891892 289.577149)" style="stroke: #000000; stroke-width: 2; stroke: #000000; stroke-width: 2"/>
      </g>
     </g>
     <g id="text_42">
      <text style="font-size: 10px; font-family: 'DejaVu Sans'; text-anchor: end" x="43.891892" y="293.376368" transform="rotate(-0 43.891892 293.376368)">4500</text>
     </g>
    </g>
    <g id="ytick_12">
     <g id="line2d_83">
      <path d="M 51.891892 254.990308 
L 726.351351 254.990308 
" clip-path="url(#pb03964c44d)" style="fill: none; stroke-dasharray: 5.55,2.4; stroke-dashoffset: 0; stroke: #b0b0b0; stroke-opacity: 0.24; stroke-width: 1.5"/>
     </g>
     <g id="line2d_84">
      <g>
       <path d="M 0 0 L -4.5 0" transform="translate(51.891892 254.990308)" style="stroke: #000000; stroke-width: 2; stroke: #000000; stroke-width: 2"/>
      </g>
     </g>
     <g id="text_43">
      <text style="font-size: 10px; font-family: 'DejaVu Sans'; text-anchor: end" x="43.891892" y="258.789527" transform="rotate(-0 43.891892 258.789527)">5000</text>
     </g>
    </g>
    <g id="ytick_13">
     <g id="line2d_85">
      <path d="M 51.891892 220.403467 
L 726.351351 220.403467 
" clip-path="url(#pb03964c44d)" style="fill: none; stroke-dasharray: 5.55,2.4; stroke-dashoffset: 0; stroke: #b0b0b0; stroke-opacity: 0.24; stroke-width: 1.5"/>
     </g>
     <g id="line2d_86">
      <g>
       <path d="M 0 0 L -4.5 0" transform="translate(51.891892 220.403467)" style="stroke: #000000; stroke-width: 2; stroke: #000000; stroke-width: 2"/>
      </g>
     </g>
     <g id="text_44">
      <text style="font-size: 10px; font-family: 'DejaVu Sans'; text-anchor: end" x="43.891892" y="224.202686" transform="rotate(-0 43.891892 224.202686)">5500</text>
     </g>
    </g>
    <g id="text_45">
     <text style="font-size: 10px; font-family: 'DejaVu Sans'; text-anchor: middle" x="13.661177" y="296.992568" transform="rotate(-90 13.661177 296.992568)">Load(kWh)</text>
    </g>
   </g>
   <g id="line2d_87">
    <path d="M 51.891892 343.333866 
L 55.906532 346.232679 
L 59.921171 350.244599 
L 61.928491 352.297079 
L 63.935811 352.092695 
L 65.943131 351.590978 
L 67.95045 349.473631 
L 69.95777 345.459891 
L 71.96509 336.361268 
L 75.97973 310.381309 
L 77.98705 299.619786 
L 79.994369 285.683189 
L 82.001689 275.208655 
L 84.009009 266.519255 
L 86.016329 260.302712 
L 90.030968 252.353245 
L 92.038288 247.811381 
L 94.045608 244.502794 
L 96.052928 242.783896 
L 98.060248 243.47592 
L 100.067568 244.677305 
L 102.074887 246.744989 
L 104.082207 249.11555 
L 112.111486 265.413724 
L 114.118806 269.010006 
L 116.126126 271.821097 
L 120.140766 271.091326 
L 122.148086 271.579801 
L 124.155405 273.809618 
L 126.162725 278.059461 
L 128.170045 282.954623 
L 132.184685 299.252839 
L 134.192005 309.110151 
L 136.199324 318.088934 
L 142.221284 339.161068 
L 144.228604 343.99623 
L 146.235923 348.00997 
L 148.243243 350.169918 
L 150.250563 352.007766 
L 152.257883 352.609827 
L 154.265203 353.339087 
L 156.272523 354.342522 
L 158.279842 354.727638 
L 160.287162 354.526951 
L 164.301802 353.782383 
L 166.309122 351.015521 
L 168.316441 347.901579 
L 172.331081 339.874099 
L 174.338401 336.659438 
L 178.353041 332.645698 
L 180.36036 330.1752 
L 184.375 324.823547 
L 194.411599 314.781137 
L 196.418919 313.006153 
L 200.433559 309.795162 
L 202.440878 309.240407 
L 204.448198 308.839033 
L 206.455518 308.572127 
L 210.470158 309.374875 
L 212.477477 308.585347 
L 214.484797 306.411238 
L 216.492117 302.685166 
L 218.499437 299.198875 
L 220.506757 300.29173 
L 222.514077 305.452252 
L 226.528716 317.286298 
L 230.543356 329.174683 
L 232.550676 334.191858 
L 234.557995 338.508826 
L 236.565315 341.519131 
L 238.572635 343.982064 
L 240.579955 345.988934 
L 242.587275 348.740444 
L 244.594595 351.750749 
L 246.601914 353.819146 
L 248.609234 355.690274 
L 254.631194 358.700578 
L 256.638514 358.961623 
L 258.645833 358.560249 
L 260.653153 355.103177 
L 262.660473 350.487376 
L 264.667793 347.35128 
L 266.675113 344.530814 
L 270.689752 341.658012 
L 272.697072 340.052517 
L 274.704392 338.754932 
L 276.711712 337.751497 
L 278.719032 336.037608 
L 284.740991 329.915442 
L 286.748311 326.905137 
L 288.755631 324.193657 
L 290.76295 322.186787 
L 292.77027 320.477573 
L 294.77759 319.072764 
L 300.79955 315.760304 
L 302.806869 314.708216 
L 304.814189 315.310277 
L 306.821509 314.78541 
L 310.836149 307.866252 
L 312.843468 304.253886 
L 314.850788 301.143892 
L 316.858108 300.489342 
L 318.865428 302.99793 
L 320.872748 306.964774 
L 322.880068 311.310524 
L 328.902027 329.372353 
L 330.909347 334.832421 
L 332.916667 339.849596 
L 334.923986 343.35115 
L 336.931306 346.361455 
L 344.960586 356.039184 
L 346.967905 357.443993 
L 348.975225 358.196664 
L 350.982545 358.397351 
L 354.997185 358.449894 
L 357.004505 355.40144 
L 359.011824 346.691507 
L 361.019144 331.961659 
L 363.026464 318.539402 
L 365.033784 310.511922 
L 367.041104 301.43173 
L 369.048423 291.39738 
L 371.055743 283.533904 
L 373.063063 276.50986 
L 377.077703 266.310426 
L 379.085023 261.293251 
L 381.092342 256.900066 
L 383.099662 253.889761 
L 385.106982 251.679728 
L 387.114302 249.952459 
L 389.121622 247.320498 
L 391.128941 245.23239 
L 393.136261 244.445 
L 395.143581 244.445 
L 397.150901 245.574812 
L 399.158221 246.980968 
L 405.18018 256.011882 
L 407.1875 258.23143 
L 409.19482 259.234865 
L 411.20214 260.830947 
L 413.209459 262.837817 
L 415.216779 266.424518 
L 417.224099 270.438258 
L 421.238739 282.627993 
L 425.253378 297.054368 
L 427.260698 305.081848 
L 431.275338 322.715796 
L 433.282658 329.428243 
L 435.289977 335.448852 
L 439.304617 343.379095 
L 441.311937 346.3894 
L 443.319257 349.038512 
L 445.326577 351.045382 
L 447.333896 352.270406 
L 449.341216 352.872467 
L 451.348536 352.567652 
L 453.355856 351.965591 
L 455.363176 350.573902 
L 457.370495 344.952885 
L 459.377815 336.813458 
L 461.385135 326.779108 
L 463.392455 315.85929 
L 465.399775 303.81807 
L 469.414414 276.448755 
L 471.421734 266.587023 
L 473.429054 257.680527 
L 475.436374 252.663352 
L 477.443694 248.102924 
L 479.451014 245.092619 
L 481.458333 242.507956 
L 483.465653 240.501086 
L 485.472973 239.36629 
L 487.480293 238.764229 
L 489.487613 240.786739 
L 491.494932 243.401275 
L 493.502252 246.41158 
L 495.509572 249.210604 
L 497.516892 251.217474 
L 499.524212 253.060925 
L 503.538851 256.150753 
L 505.546171 257.555562 
L 509.560811 259.642572 
L 511.568131 262.646715 
L 513.57545 266.43377 
L 517.59009 280.873316 
L 519.59741 288.900795 
L 521.60473 298.105724 
L 523.61205 308.140073 
L 527.626689 324.629917 
L 529.634009 329.707613 
L 531.641329 334.370598 
L 537.663288 343.401513 
L 541.677928 348.792096 
L 543.685248 350.478347 
L 545.692568 351.883156 
L 547.699887 352.901497 
L 549.707207 353.104922 
L 551.714527 349.091183 
L 553.721847 343.747147 
L 555.729167 335.997118 
L 557.736486 323.458998 
L 559.743806 306.045165 
L 563.758446 277.375595 
L 565.765766 265.279545 
L 567.773086 255.635823 
L 569.780405 250.618648 
L 571.787725 246.967146 
L 573.795045 244.794813 
L 579.817005 241.784508 
L 581.824324 241.549638 
L 583.831644 241.549638 
L 585.838964 242.515471 
L 587.846284 243.81543 
L 589.853604 246.682387 
L 591.860923 250.352751 
L 593.868243 253.773955 
L 595.875563 256.78426 
L 597.882883 259.141727 
L 603.904842 265.206276 
L 605.912162 268.216581 
L 607.919482 271.709302 
L 609.926802 276.726477 
L 611.934122 282.182129 
L 613.941441 288.202738 
L 617.956081 301.883138 
L 623.978041 322.955272 
L 625.98536 329.531086 
L 627.99268 334.548261 
L 630 338.722668 
L 632.00732 341.732973 
L 634.01464 344.124626 
L 640.036599 350.135481 
L 642.043919 351.138916 
L 644.051239 351.728306 
L 646.058559 350.724871 
L 648.065878 347.093545 
L 650.073198 339.567783 
L 652.080518 328.256921 
L 656.095158 301.233947 
L 658.102477 288.69101 
L 664.124437 264.575547 
L 666.131757 257.322464 
L 668.139077 251.301854 
L 670.146396 247.034644 
L 672.153716 244.024339 
L 674.161036 242.26481 
L 676.168356 240.860001 
L 678.175676 240.238395 
L 680.182995 239.982008 
L 682.190315 241.386817 
L 684.197635 243.235752 
L 686.204955 245.844683 
L 690.219595 251.690868 
L 692.226914 253.936531 
L 698.248874 259.801397 
L 700.256194 260.804832 
L 702.263514 263.220317 
L 704.270833 268.237492 
L 706.278153 273.804947 
L 708.285473 279.825557 
L 712.300113 293.617761 
L 716.314752 307.804502 
L 720.329392 323.691501 
L 724.344032 338.423344 
L 724.344032 338.423344 
" clip-path="url(#pb03964c44d)" style="fill: none; stroke-dasharray: 9.6,2.4,1.5,2.4; stroke-dashoffset: 0; stroke: #ff0000; stroke-width: 2"/>
   </g>
   <g id="line2d_88">
    <path d="M 51.891892 343.198762 
L 55.906532 345.094139 
L 57.913851 346.986094 
L 59.921171 349.050303 
L 61.928491 349.858539 
L 63.935811 349.356822 
L 65.943131 348.623597 
L 67.95045 344.609857 
L 69.95777 333.834776 
L 71.96509 320.615924 
L 73.97241 308.839597 
L 75.97973 301.40677 
L 77.98705 298.776788 
L 79.994369 289.857366 
L 82.001689 278.341398 
L 84.009009 271.998507 
L 86.016329 268.653724 
L 92.038288 255.50821 
L 94.045608 252.010495 
L 96.052928 251.703762 
L 98.060248 254.499045 
L 100.067568 257.517563 
L 104.082207 264.034827 
L 108.096847 269.38648 
L 112.111486 276.144452 
L 114.118806 278.871069 
L 116.126126 280.367502 
L 118.133446 276.783805 
L 120.140766 273.608923 
L 122.148086 271.527725 
L 124.155405 271.894309 
L 126.162725 276.152411 
L 130.177365 289.245418 
L 132.184685 296.412811 
L 134.192005 305.208306 
L 136.199324 315.390859 
L 138.206644 324.641903 
L 144.228604 348.724342 
L 146.235923 352.610512 
L 148.243243 355.576627 
L 154.265203 358.586932 
L 156.272523 360.006999 
L 158.279842 362.013869 
L 160.287162 362.424597 
L 162.294482 361.822536 
L 164.301802 358.949202 
L 166.309122 355.519515 
L 168.316441 348.49547 
L 170.323761 343.898675 
L 172.331081 348.91585 
L 174.338401 354.789181 
L 176.345721 358.939538 
L 178.353041 343.888014 
L 180.36036 333.704583 
L 182.36768 325.677103 
L 184.375 323.601026 
L 186.38232 322.263113 
L 188.38964 320.616569 
L 192.404279 314.748938 
L 194.411599 312.140007 
L 196.418919 309.878905 
L 198.426239 307.872035 
L 200.433559 306.797545 
L 202.440878 305.994797 
L 204.448198 307.919954 
L 206.455518 311.171014 
L 208.462838 313.133539 
L 210.470158 310.123234 
L 212.477477 307.702864 
L 214.484797 305.0878 
L 216.492117 301.781662 
L 218.499437 299.084221 
L 220.506757 300.668352 
L 222.514077 305.334926 
L 224.521396 312.860688 
L 228.536036 325.11651 
L 232.550676 336.90626 
L 234.557995 341.923435 
L 236.565315 346.491872 
L 238.572635 350.505612 
L 242.587275 357.543427 
L 244.594595 359.099903 
L 246.601914 360.274339 
L 248.609234 360.675713 
L 250.616554 361.217712 
L 252.623874 362.221147 
L 254.631194 363.051924 
L 256.638514 363.653985 
L 258.645833 362.306416 
L 260.653153 359.30978 
L 262.660473 354.149258 
L 264.667793 349.781434 
L 266.675113 349.143038 
L 268.682432 349.778074 
L 270.689752 348.172578 
L 272.697072 346.23544 
L 274.704392 343.827197 
L 278.719032 339.656811 
L 280.726351 336.840852 
L 282.733671 333.833469 
L 292.77027 323.79912 
L 294.77759 322.981705 
L 296.78491 322.981705 
L 298.79223 322.506507 
L 300.79955 321.904446 
L 302.806869 323.37984 
L 304.814189 322.043113 
L 308.828829 314.221834 
L 310.836149 309.729094 
L 312.843468 304.711919 
L 314.850788 300.912028 
L 316.858108 301.11061 
L 318.865428 304.760636 
L 320.872748 308.909117 
L 324.887387 321.214976 
L 326.894707 328.23902 
L 328.902027 334.33925 
L 330.909347 339.356425 
L 332.916667 343.714424 
L 338.938626 355.705365 
L 340.945946 358.71567 
L 342.953266 361.478429 
L 344.960586 363.485299 
L 346.967905 365.047354 
L 348.975225 366.050789 
L 350.982545 365.770057 
L 352.989865 364.766622 
L 354.997185 360.405781 
L 357.004505 355.02357 
L 359.011824 338.177695 
L 361.019144 318.406661 
L 363.026464 306.365442 
L 365.033784 296.03511 
L 369.048423 279.623013 
L 371.055743 270.505422 
L 373.063063 259.353559 
L 375.070383 246.81752 
L 377.077703 246.778795 
L 379.085023 245.606419 
L 381.092342 242.11126 
L 385.106982 233.938276 
L 387.114302 231.542977 
L 389.121622 232.267482 
L 391.128941 229.669817 
L 393.136261 232.540867 
L 395.143581 238.561477 
L 397.150901 241.354053 
L 399.158221 243.360081 
L 401.165541 244.363516 
L 403.17286 245.961282 
L 405.18018 249.975022 
L 407.1875 251.616489 
L 411.20214 243.475563 
L 413.209459 242.647508 
L 415.216779 246.58047 
L 417.224099 252.314384 
L 419.231419 260.868824 
L 421.238739 271.408707 
L 425.253378 293.985994 
L 427.260698 306.622773 
L 429.268018 317.879639 
L 431.275338 327.133318 
L 433.282658 334.65908 
L 435.289977 339.134743 
L 437.297297 343.017902 
L 439.304617 345.024772 
L 441.311937 347.49112 
L 443.319257 351.254001 
L 445.326577 360.152804 
L 447.333896 370.053602 
L 449.341216 371.487081 
L 451.348536 365.795106 
L 453.355856 356.058898 
L 455.363176 348.747401 
L 457.370495 337.885121 
L 459.377815 324.728519 
L 463.392455 295.200223 
L 467.407095 267.027229 
L 469.414414 254.484292 
L 471.421734 244.034533 
L 473.429054 236.807506 
L 475.436374 234.12589 
L 477.443694 232.692412 
L 479.451014 229.602004 
L 481.458333 225.507162 
L 483.465653 221.955692 
L 485.472973 221.400358 
L 487.480293 228.859464 
L 489.487613 238.13005 
L 491.494932 244.755559 
L 493.502252 248.221908 
L 495.509572 249.626717 
L 497.516892 251.217474 
L 499.524212 253.224344 
L 501.531532 254.724031 
L 503.538851 255.727466 
L 505.546171 255.040217 
L 507.553491 253.635409 
L 509.560811 252.720105 
L 511.568131 254.535359 
L 513.57545 260.793089 
L 521.60473 294.802597 
L 525.619369 312.864426 
L 529.634009 332.185202 
L 531.641329 339.976497 
L 533.648649 343.990237 
L 535.655968 347.629614 
L 537.663288 350.639919 
L 539.670608 353.078592 
L 541.677928 355.085462 
L 545.692568 358.390268 
L 547.699887 357.725268 
L 549.707207 354.38172 
L 551.714527 345.691964 
L 553.721847 328.490222 
L 555.729167 304.510413 
L 557.736486 288.545316 
L 559.743806 280.840769 
L 561.751126 269.372941 
L 563.758446 260.14985 
L 565.765766 254.067556 
L 567.773086 250.402332 
L 569.780405 247.893744 
L 571.787725 245.157545 
L 573.795045 242.611183 
L 575.802365 240.715055 
L 577.809685 240.095236 
L 579.817005 252.638173 
L 581.824324 259.794734 
L 583.831644 262.086853 
L 587.846284 264.59544 
L 589.853604 263.302396 
L 591.860923 254.31655 
L 593.868243 243.700916 
L 595.875563 244.449529 
L 597.882883 244.850903 
L 599.890203 245.09931 
L 603.904842 244.53288 
L 605.912162 246.539749 
L 607.919482 251.682974 
L 609.926802 258.292066 
L 611.934122 266.506198 
L 613.941441 275.87437 
L 623.978041 326.29708 
L 625.98536 339.384171 
L 627.99268 355.162825 
L 630 361.826104 
L 640.036599 371.86533 
L 642.043919 374.373918 
L 644.051239 371.396271 
L 646.058559 363.355573 
L 648.065878 350.086895 
L 650.073198 334.611539 
L 652.080518 320.797321 
L 654.087838 304.897426 
L 656.095158 293.429598 
L 658.102477 284.525947 
L 660.109797 276.604551 
L 662.117117 269.553613 
L 664.124437 264.536438 
L 666.131757 258.984179 
L 668.139077 255.054785 
L 672.153716 251.041045 
L 674.161036 270.922756 
L 676.168356 250.115518 
L 678.175676 248.745642 
L 680.182995 248.172251 
L 682.190315 245.892599 
L 684.197635 248.306093 
L 686.204955 253.999589 
L 688.212275 258.55598 
L 692.226914 261.159487 
L 696.241554 267.706367 
L 698.248874 268.495163 
L 700.256194 266.488293 
L 702.263514 268.753439 
L 704.270833 272.522273 
L 710.292793 295.435952 
L 718.322072 327.328912 
L 722.336712 346.377478 
L 724.344032 353.239679 
L 724.344032 353.239679 
" clip-path="url(#pb03964c44d)" style="fill: none; stroke-dasharray: 5.55,2.4; stroke-dashoffset: 0; stroke: #0000ff; stroke-width: 2"/>
   </g>
   <g id="patch_9">
    <path d="M 51.891892 380.540541 
L 51.891892 211.756757 
" style="fill: none; stroke: #000000; stroke-width: 1.1; stroke-linejoin: miter; stroke-linecap: square"/>
   </g>
   <g id="patch_10">
    <path d="M 726.351351 380.540541 
L 726.351351 211.756757 
" style="fill: none; stroke: #000000; stroke-width: 1.1; stroke-linejoin: miter; stroke-linecap: square"/>
   </g>
   <g id="patch_11">
    <path d="M 51.891892 380.540541 
L 726.351351 380.540541 
" style="fill: none; stroke: #000000; stroke-width: 1.1; stroke-linejoin: miter; stroke-linecap: square"/>
   </g>
   <g id="patch_12">
    <path d="M 51.891892 211.756757 
L 726.351351 211.756757 
" style="fill: none; stroke: #000000; stroke-width: 1.1; stroke-linejoin: miter; stroke-linecap: square"/>
   </g>
   <g id="legend_2">
    <g id="patch_13">
     <path d="M 58.091892 250.113007 
L 168.526267 250.113007 
Q 170.526267 250.113007 170.526267 248.113007 
L 170.526267 217.956757 
Q 170.526267 215.956757 168.526267 215.956757 
L 58.091892 215.956757 
Q 56.091892 215.956757 56.091892 217.956757 
L 56.091892 248.113007 
Q 56.091892 250.113007 58.091892 250.113007 
z
" style="fill: #ffffff; opacity: 0.8; stroke: #cccccc; stroke-linejoin: miter"/>
    </g><g transform="translate(0 1.216)">
    <g id="line2d_89">
     <path d="M 60.591892 224.555194 
L 70.591892 224.555194 
L 80.591892 224.555194 
" style="fill: none; stroke-dasharray: 9.6,2.4,1.5,2.4; stroke-dashoffset: 0; stroke: #ff0000; stroke-width: 2"/>
    </g>
    <g id="text_46">
     <text style="font-size: 10px; font-family: 'DejaVu Sans'; text-anchor: start" x="88.591892" y="228.055194" transform="rotate(-0 88.591892 228.055194)">Predicted value</text>
    </g>
    <g id="line2d_90">
     <path d="M 60.591892 240.033319 
L 70.591892 240.033319 
L 80.591892 240.033319 
" style="fill: none; stroke-dasharray: 5.55,2.4; stroke-dashoffset: 0; stroke: #0000ff; stroke-width: 2"/>
    </g>
    <g id="text_47">
     <text style="font-size: 10px; font-family: 'DejaVu Sans'; text-anchor: start" x="88.591892" y="243.533319" transform="rotate(-0 88.591892 243.533319)">Actual value</text>
    </g>
   </g></g>
  </g>
  <g id="axes_3">
   <g id="patch_14">
    <path d="M 51.891892 583.243243 
L 726.351351 583.243243 
L 726.351351 414.189189 
L 51.891892 414.189189 
z
" style="fill: #ffffff"/>
   </g>
   <g id="matplotlib.axis_5">
    <g id="xtick_29">
     <g id="line2d_91">
      <path d="M 51.891892 583.243243 
L 51.891892 414.189189 
" clip-path="url(#p68bb733ccb)" style="fill: none; stroke-dasharray: 5.55,2.4; stroke-dashoffset: 0; stroke: #b0b0b0; stroke-opacity: 0.24; stroke-width: 1.5"/>
     </g>
     <g id="line2d_92">
      <g>
       <path d="M 0 0 L 0 3" transform="translate(51.891892 583.243243)" style="stroke: #000000; stroke-width: 2; stroke: #000000; stroke-width: 2"/>
      </g>
     </g>
     <g id="text_48">
      <text style="font-size: 10px; font-family: 'DejaVu Sans'; text-anchor: middle" x="51.891892" y="599.241681" transform="rotate(-0 51.891892 599.241681)">0</text>
     </g>
    </g>
    <g id="xtick_30">
     <g id="line2d_93">
      <path d="M 96.855856 583.243243 
L 96.855856 414.189189 
" clip-path="url(#p68bb733ccb)" style="fill: none; stroke-dasharray: 5.55,2.4; stroke-dashoffset: 0; stroke: #b0b0b0; stroke-opacity: 0.24; stroke-width: 1.5"/>
     </g>
     <g id="line2d_94">
      <g>
       <path d="M 0 0 L 0 3" transform="translate(96.855856 583.243243)" style="stroke: #000000; stroke-width: 2; stroke: #000000; stroke-width: 2"/>
      </g>
     </g>
     <g id="text_49">
      <text style="font-size: 10px; font-family: 'DejaVu Sans'; text-anchor: middle" x="96.855856" y="599.241681" transform="rotate(-0 96.855856 599.241681)">96</text>
     </g>
    </g>
    <g id="xtick_31">
     <g id="line2d_95">
      <path d="M 141.81982 583.243243 
L 141.81982 414.189189 
" clip-path="url(#p68bb733ccb)" style="fill: none; stroke-dasharray: 5.55,2.4; stroke-dashoffset: 0; stroke: #b0b0b0; stroke-opacity: 0.24; stroke-width: 1.5"/>
     </g>
     <g id="line2d_96">
      <g>
       <path d="M 0 0 L 0 3" transform="translate(141.81982 583.243243)" style="stroke: #000000; stroke-width: 2; stroke: #000000; stroke-width: 2"/>
      </g>
     </g>
     <g id="text_50">
      <text style="font-size: 10px; font-family: 'DejaVu Sans'; text-anchor: middle" x="141.81982" y="599.241681" transform="rotate(-0 141.81982 599.241681)">192</text>
     </g>
    </g>
    <g id="xtick_32">
     <g id="line2d_97">
      <path d="M 186.783784 583.243243 
L 186.783784 414.189189 
" clip-path="url(#p68bb733ccb)" style="fill: none; stroke-dasharray: 5.55,2.4; stroke-dashoffset: 0; stroke: #b0b0b0; stroke-opacity: 0.24; stroke-width: 1.5"/>
     </g>
     <g id="line2d_98">
      <g>
       <path d="M 0 0 L 0 3" transform="translate(186.783784 583.243243)" style="stroke: #000000; stroke-width: 2; stroke: #000000; stroke-width: 2"/>
      </g>
     </g>
     <g id="text_51">
      <text style="font-size: 10px; font-family: 'DejaVu Sans'; text-anchor: middle" x="186.783784" y="599.241681" transform="rotate(-0 186.783784 599.241681)">288</text>
     </g>
    </g>
    <g id="xtick_33">
     <g id="line2d_99">
      <path d="M 231.747748 583.243243 
L 231.747748 414.189189 
" clip-path="url(#p68bb733ccb)" style="fill: none; stroke-dasharray: 5.55,2.4; stroke-dashoffset: 0; stroke: #b0b0b0; stroke-opacity: 0.24; stroke-width: 1.5"/>
     </g>
     <g id="line2d_100">
      <g>
       <path d="M 0 0 L 0 3" transform="translate(231.747748 583.243243)" style="stroke: #000000; stroke-width: 2; stroke: #000000; stroke-width: 2"/>
      </g>
     </g>
     <g id="text_52">
      <text style="font-size: 10px; font-family: 'DejaVu Sans'; text-anchor: middle" x="231.747748" y="599.241681" transform="rotate(-0 231.747748 599.241681)">384</text>
     </g>
    </g>
    <g id="xtick_34">
     <g id="line2d_101">
      <path d="M 276.711712 583.243243 
L 276.711712 414.189189 
" clip-path="url(#p68bb733ccb)" style="fill: none; stroke-dasharray: 5.55,2.4; stroke-dashoffset: 0; stroke: #b0b0b0; stroke-opacity: 0.24; stroke-width: 1.5"/>
     </g>
     <g id="line2d_102">
      <g>
       <path d="M 0 0 L 0 3" transform="translate(276.711712 583.243243)" style="stroke: #000000; stroke-width: 2; stroke: #000000; stroke-width: 2"/>
      </g>
     </g>
     <g id="text_53">
      <text style="font-size: 10px; font-family: 'DejaVu Sans'; text-anchor: middle" x="276.711712" y="599.241681" transform="rotate(-0 276.711712 599.241681)">480</text>
     </g>
    </g>
    <g id="xtick_35">
     <g id="line2d_103">
      <path d="M 321.675676 583.243243 
L 321.675676 414.189189 
" clip-path="url(#p68bb733ccb)" style="fill: none; stroke-dasharray: 5.55,2.4; stroke-dashoffset: 0; stroke: #b0b0b0; stroke-opacity: 0.24; stroke-width: 1.5"/>
     </g>
     <g id="line2d_104">
      <g>
       <path d="M 0 0 L 0 3" transform="translate(321.675676 583.243243)" style="stroke: #000000; stroke-width: 2; stroke: #000000; stroke-width: 2"/>
      </g>
     </g>
     <g id="text_54">
      <text style="font-size: 10px; font-family: 'DejaVu Sans'; text-anchor: middle" x="321.675676" y="599.241681" transform="rotate(-0 321.675676 599.241681)">576</text>
     </g>
    </g>
    <g id="xtick_36">
     <g id="line2d_105">
      <path d="M 366.63964 583.243243 
L 366.63964 414.189189 
" clip-path="url(#p68bb733ccb)" style="fill: none; stroke-dasharray: 5.55,2.4; stroke-dashoffset: 0; stroke: #b0b0b0; stroke-opacity: 0.24; stroke-width: 1.5"/>
     </g>
     <g id="line2d_106">
      <g>
       <path d="M 0 0 L 0 3" transform="translate(366.63964 583.243243)" style="stroke: #000000; stroke-width: 2; stroke: #000000; stroke-width: 2"/>
      </g>
     </g>
     <g id="text_55">
      <text style="font-size: 10px; font-family: 'DejaVu Sans'; text-anchor: middle" x="366.63964" y="599.241681" transform="rotate(-0 366.63964 599.241681)">672</text>
     </g>
    </g>
    <g id="xtick_37">
     <g id="line2d_107">
      <path d="M 411.603604 583.243243 
L 411.603604 414.189189 
" clip-path="url(#p68bb733ccb)" style="fill: none; stroke-dasharray: 5.55,2.4; stroke-dashoffset: 0; stroke: #b0b0b0; stroke-opacity: 0.24; stroke-width: 1.5"/>
     </g>
     <g id="line2d_108">
      <g>
       <path d="M 0 0 L 0 3" transform="translate(411.603604 583.243243)" style="stroke: #000000; stroke-width: 2; stroke: #000000; stroke-width: 2"/>
      </g>
     </g>
     <g id="text_56">
      <text style="font-size: 10px; font-family: 'DejaVu Sans'; text-anchor: middle" x="411.603604" y="599.241681" transform="rotate(-0 411.603604 599.241681)">768</text>
     </g>
    </g>
    <g id="xtick_38">
     <g id="line2d_109">
      <path d="M 456.567568 583.243243 
L 456.567568 414.189189 
" clip-path="url(#p68bb733ccb)" style="fill: none; stroke-dasharray: 5.55,2.4; stroke-dashoffset: 0; stroke: #b0b0b0; stroke-opacity: 0.24; stroke-width: 1.5"/>
     </g>
     <g id="line2d_110">
      <g>
       <path d="M 0 0 L 0 3" transform="translate(456.567568 583.243243)" style="stroke: #000000; stroke-width: 2; stroke: #000000; stroke-width: 2"/>
      </g>
     </g>
     <g id="text_57">
      <text style="font-size: 10px; font-family: 'DejaVu Sans'; text-anchor: middle" x="456.567568" y="599.241681" transform="rotate(-0 456.567568 599.241681)">864</text>
     </g>
    </g>
    <g id="xtick_39">
     <g id="line2d_111">
      <path d="M 501.531532 583.243243 
L 501.531532 414.189189 
" clip-path="url(#p68bb733ccb)" style="fill: none; stroke-dasharray: 5.55,2.4; stroke-dashoffset: 0; stroke: #b0b0b0; stroke-opacity: 0.24; stroke-width: 1.5"/>
     </g>
     <g id="line2d_112">
      <g>
       <path d="M 0 0 L 0 3" transform="translate(501.531532 583.243243)" style="stroke: #000000; stroke-width: 2; stroke: #000000; stroke-width: 2"/>
      </g>
     </g>
     <g id="text_58">
      <text style="font-size: 10px; font-family: 'DejaVu Sans'; text-anchor: middle" x="501.531532" y="599.241681" transform="rotate(-0 501.531532 599.241681)">960</text>
     </g>
    </g>
    <g id="xtick_40">
     <g id="line2d_113">
      <path d="M 546.495495 583.243243 
L 546.495495 414.189189 
" clip-path="url(#p68bb733ccb)" style="fill: none; stroke-dasharray: 5.55,2.4; stroke-dashoffset: 0; stroke: #b0b0b0; stroke-opacity: 0.24; stroke-width: 1.5"/>
     </g>
     <g id="line2d_114">
      <g>
       <path d="M 0 0 L 0 3" transform="translate(546.495495 583.243243)" style="stroke: #000000; stroke-width: 2; stroke: #000000; stroke-width: 2"/>
      </g>
     </g>
     <g id="text_59">
      <text style="font-size: 10px; font-family: 'DejaVu Sans'; text-anchor: middle" x="546.495495" y="599.241681" transform="rotate(-0 546.495495 599.241681)">1056</text>
     </g>
    </g>
    <g id="xtick_41">
     <g id="line2d_115">
      <path d="M 591.459459 583.243243 
L 591.459459 414.189189 
" clip-path="url(#p68bb733ccb)" style="fill: none; stroke-dasharray: 5.55,2.4; stroke-dashoffset: 0; stroke: #b0b0b0; stroke-opacity: 0.24; stroke-width: 1.5"/>
     </g>
     <g id="line2d_116">
      <g>
       <path d="M 0 0 L 0 3" transform="translate(591.459459 583.243243)" style="stroke: #000000; stroke-width: 2; stroke: #000000; stroke-width: 2"/>
      </g>
     </g>
     <g id="text_60">
      <text style="font-size: 10px; font-family: 'DejaVu Sans'; text-anchor: middle" x="591.459459" y="599.241681" transform="rotate(-0 591.459459 599.241681)">1152</text>
     </g>
    </g>
    <g id="xtick_42">
     <g id="line2d_117">
      <path d="M 636.423423 583.243243 
L 636.423423 414.189189 
" clip-path="url(#p68bb733ccb)" style="fill: none; stroke-dasharray: 5.55,2.4; stroke-dashoffset: 0; stroke: #b0b0b0; stroke-opacity: 0.24; stroke-width: 1.5"/>
     </g>
     <g id="line2d_118">
      <g>
       <path d="M 0 0 L 0 3" transform="translate(636.423423 583.243243)" style="stroke: #000000; stroke-width: 2; stroke: #000000; stroke-width: 2"/>
      </g>
     </g>
     <g id="text_61">
      <text style="font-size: 10px; font-family: 'DejaVu Sans'; text-anchor: middle" x="636.423423" y="599.241681" transform="rotate(-0 636.423423 599.241681)">1248</text>
     </g>
    </g>
    <g id="xtick_43">
     <g id="line2d_119">
      <path d="M 681.387387 583.243243 
L 681.387387 414.189189 
" clip-path="url(#p68bb733ccb)" style="fill: none; stroke-dasharray: 5.55,2.4; stroke-dashoffset: 0; stroke: #b0b0b0; stroke-opacity: 0.24; stroke-width: 1.5"/>
     </g>
     <g id="line2d_120">
      <g>
       <path d="M 0 0 L 0 3" transform="translate(681.387387 583.243243)" style="stroke: #000000; stroke-width: 2; stroke: #000000; stroke-width: 2"/>
      </g>
     </g>
     <g id="text_62">
      <text style="font-size: 10px; font-family: 'DejaVu Sans'; text-anchor: middle" x="681.387387" y="599.241681" transform="rotate(-0 681.387387 599.241681)">1344</text>
     </g>
    </g>
    <g id="xtick_44">
     <g id="line2d_121">
      <path d="M 726.351351 583.243243 
L 726.351351 414.189189 
" clip-path="url(#p68bb733ccb)" style="fill: none; stroke-dasharray: 5.55,2.4; stroke-dashoffset: 0; stroke: #b0b0b0; stroke-opacity: 0.24; stroke-width: 1.5"/>
     </g>
     <g id="line2d_122">
      <g>
       <path d="M 0 0 L 0 3" transform="translate(726.351351 583.243243)" style="stroke: #000000; stroke-width: 2; stroke: #000000; stroke-width: 2"/>
      </g>
     </g>
     <g id="text_63">
      <text style="font-size: 10px; font-family: 'DejaVu Sans'; text-anchor: middle" x="726.351351" y="599.241681" transform="rotate(-0 726.351351 599.241681)">1440</text>
     </g>
    </g>
   </g>
   <g id="matplotlib.axis_6">
    <g id="ytick_14">
     <g id="line2d_123">
      <path d="M 51.891892 567.549851 
L 726.351351 567.549851 
" clip-path="url(#p68bb733ccb)" style="fill: none; stroke-dasharray: 5.55,2.4; stroke-dashoffset: 0; stroke: #b0b0b0; stroke-opacity: 0.24; stroke-width: 1.5"/>
     </g>
     <g id="line2d_124">
      <g>
       <path d="M 0 0 L -4.5 0" transform="translate(51.891892 567.549851)" style="stroke: #000000; stroke-width: 2; stroke: #000000; stroke-width: 2"/>
      </g>
     </g>
     <g id="text_64">
      <text style="font-size: 10px; font-family: 'DejaVu Sans'; text-anchor: end" x="43.891892" y="571.349069" transform="rotate(-0 43.891892 571.349069)">2500</text>
     </g>
    </g>
    <g id="ytick_15">
     <g id="line2d_125">
      <path d="M 51.891892 543.40617 
L 726.351351 543.40617 
" clip-path="url(#p68bb733ccb)" style="fill: none; stroke-dasharray: 5.55,2.4; stroke-dashoffset: 0; stroke: #b0b0b0; stroke-opacity: 0.24; stroke-width: 1.5"/>
     </g>
     <g id="line2d_126">
      <g>
       <path d="M 0 0 L -4.5 0" transform="translate(51.891892 543.40617)" style="stroke: #000000; stroke-width: 2; stroke: #000000; stroke-width: 2"/>
      </g>
     </g>
     <g id="text_65">
      <text style="font-size: 10px; font-family: 'DejaVu Sans'; text-anchor: end" x="43.891892" y="547.205388" transform="rotate(-0 43.891892 547.205388)">3000</text>
     </g>
    </g>
    <g id="ytick_16">
     <g id="line2d_127">
      <path d="M 51.891892 519.262489 
L 726.351351 519.262489 
" clip-path="url(#p68bb733ccb)" style="fill: none; stroke-dasharray: 5.55,2.4; stroke-dashoffset: 0; stroke: #b0b0b0; stroke-opacity: 0.24; stroke-width: 1.5"/>
     </g>
     <g id="line2d_128">
      <g>
       <path d="M 0 0 L -4.5 0" transform="translate(51.891892 519.262489)" style="stroke: #000000; stroke-width: 2; stroke: #000000; stroke-width: 2"/>
      </g>
     </g>
     <g id="text_66">
      <text style="font-size: 10px; font-family: 'DejaVu Sans'; text-anchor: end" x="43.891892" y="523.061707" transform="rotate(-0 43.891892 523.061707)">3500</text>
     </g>
    </g>
    <g id="ytick_17">
     <g id="line2d_129">
      <path d="M 51.891892 495.118808 
L 726.351351 495.118808 
" clip-path="url(#p68bb733ccb)" style="fill: none; stroke-dasharray: 5.55,2.4; stroke-dashoffset: 0; stroke: #b0b0b0; stroke-opacity: 0.24; stroke-width: 1.5"/>
     </g>
     <g id="line2d_130">
      <g>
       <path d="M 0 0 L -4.5 0" transform="translate(51.891892 495.118808)" style="stroke: #000000; stroke-width: 2; stroke: #000000; stroke-width: 2"/>
      </g>
     </g>
     <g id="text_67">
      <text style="font-size: 10px; font-family: 'DejaVu Sans'; text-anchor: end" x="43.891892" y="498.918027" transform="rotate(-0 43.891892 498.918027)">4000</text>
     </g>
    </g>
    <g id="ytick_18">
     <g id="line2d_131">
      <path d="M 51.891892 470.975127 
L 726.351351 470.975127 
" clip-path="url(#p68bb733ccb)" style="fill: none; stroke-dasharray: 5.55,2.4; stroke-dashoffset: 0; stroke: #b0b0b0; stroke-opacity: 0.24; stroke-width: 1.5"/>
     </g>
     <g id="line2d_132">
      <g>
       <path d="M 0 0 L -4.5 0" transform="translate(51.891892 470.975127)" style="stroke: #000000; stroke-width: 2; stroke: #000000; stroke-width: 2"/>
      </g>
     </g>
     <g id="text_68">
      <text style="font-size: 10px; font-family: 'DejaVu Sans'; text-anchor: end" x="43.891892" y="474.774346" transform="rotate(-0 43.891892 474.774346)">4500</text>
     </g>
    </g>
    <g id="ytick_19">
     <g id="line2d_133">
      <path d="M 51.891892 446.831446 
L 726.351351 446.831446 
" clip-path="url(#p68bb733ccb)" style="fill: none; stroke-dasharray: 5.55,2.4; stroke-dashoffset: 0; stroke: #b0b0b0; stroke-opacity: 0.24; stroke-width: 1.5"/>
     </g>
     <g id="line2d_134">
      <g>
       <path d="M 0 0 L -4.5 0" transform="translate(51.891892 446.831446)" style="stroke: #000000; stroke-width: 2; stroke: #000000; stroke-width: 2"/>
      </g>
     </g>
     <g id="text_69">
      <text style="font-size: 10px; font-family: 'DejaVu Sans'; text-anchor: end" x="43.891892" y="450.630665" transform="rotate(-0 43.891892 450.630665)">5000</text>
     </g>
    </g>
    <g id="ytick_20">
     <g id="line2d_135">
      <path d="M 51.891892 422.687765 
L 726.351351 422.687765 
" clip-path="url(#p68bb733ccb)" style="fill: none; stroke-dasharray: 5.55,2.4; stroke-dashoffset: 0; stroke: #b0b0b0; stroke-opacity: 0.24; stroke-width: 1.5"/>
     </g>
     <g id="line2d_136">
      <g>
       <path d="M 0 0 L -4.5 0" transform="translate(51.891892 422.687765)" style="stroke: #000000; stroke-width: 2; stroke: #000000; stroke-width: 2"/>
      </g>
     </g>
     <g id="text_70">
      <text style="font-size: 10px; font-family: 'DejaVu Sans'; text-anchor: end" x="43.891892" y="426.486984" transform="rotate(-0 43.891892 426.486984)">5500</text>
     </g>
    </g>
    <g id="text_71">
     <text style="font-size: 10px; font-family: 'DejaVu Sans'; text-anchor: middle" x="13.661177" y="500.406757" transform="rotate(-90 13.661177 500.406757)">Load(kWh)</text>
    </g>
   </g>
   <g id="line2d_137">
    <path d="M 51.891892 514.048699 
L 54.70214 494.83386 
L 57.512387 472.343854 
L 59.385886 459.037426 
L 61.259384 449.901878 
L 63.132883 451.901409 
L 65.006381 459.349938 
L 66.87988 465.116677 
L 68.753378 476.566123 
L 71.095252 498.936851 
L 72.500375 509.883276 
L 74.373874 515.379185 
L 76.247372 517.121384 
L 77.652496 515.716274 
L 78.120871 514.971842 
L 80.462744 503.600567 
L 82.804617 493.354973 
L 83.741366 491.103124 
L 85.614865 487.213769 
L 88.425113 485.457382 
L 89.361862 485.395235 
L 90.766986 485.395235 
L 91.23536 485.95107 
L 93.577233 500.566554 
L 94.982357 509.990571 
L 97.32423 516.681571 
L 97.792605 517.429909 
L 99.666104 518.991142 
L 100.134478 518.223161 
L 102.476351 513.023484 
L 105.754974 501.085298 
L 110.43872 487.703297 
L 110.907095 487.00277 
L 112.780593 485.441536 
L 113.717342 490.682309 
L 115.122466 499.529153 
L 116.52759 509.364923 
L 118.401089 517.005278 
L 119.337838 517.82367 
L 120.742962 518.82732 
L 121.211336 518.030677 
L 123.084835 504.466284 
L 126.831832 467.310204 
L 128.70533 453.123041 
L 130.578829 447.829621 
L 131.983953 446.424511 
L 132.452327 446.623681 
L 136.199324 458.038196 
L 137.604448 463.658636 
L 138.072823 466.594172 
L 139.946321 485.689741 
L 141.81982 508.652928 
L 142.288194 508.914006 
L 143.693318 506.103786 
L 144.630068 499.022045 
L 145.566817 491.528125 
L 148.845439 455.132657 
L 149.313814 450.448957 
L 150.250563 446.350565 
L 151.187312 442.603605 
L 151.655687 442.795988 
L 153.060811 444.201098 
L 154.934309 449.717893 
L 156.807808 460.81343 
L 159.618056 486.945256 
L 161.023179 497.326042 
L 162.428303 505.756702 
L 164.301802 511.481988 
L 165.238551 510.671542 
L 166.1753 509.734802 
L 168.048799 491.253791 
L 170.390672 464.09508 
L 171.795796 450.04398 
L 173.669294 442.441614 
L 174.606044 443.304856 
L 175.542793 444.241596 
L 177.416291 447.977231 
L 179.28979 457.320782 
L 181.163288 472.294897 
L 183.505161 494.769907 
L 184.910285 505.983041 
L 186.783784 511.585633 
L 188.657282 513.397618 
L 190.530781 505.809655 
L 192.872654 481.416318 
L 194.277778 464.644691 
L 196.151276 449.81164 
L 198.024775 446.152199 
L 199.898273 448.090775 
L 201.771772 453.818983 
L 203.64527 465.217053 
L 207.392267 502.456418 
L 209.265766 511.62613 
L 210.67089 513.03124 
L 211.139264 513.235627 
L 213.012763 505.292335 
L 216.75976 460.706341 
L 218.633258 449.79694 
L 220.038382 448.39183 
L 220.506757 448.132473 
L 222.380255 451.952478 
L 224.253754 457.80218 
L 226.127252 469.20265 
L 229.874249 499.005241 
L 231.747748 509.886443 
L 233.152872 512.696663 
L 233.621246 514.810768 
L 234.089621 516.269522 
L 235.494745 512.054192 
L 236.431494 507.688814 
L 237.836618 500.975848 
L 239.710116 493.797886 
L 241.583615 488.496779 
L 246.735736 478.192639 
L 247.20411 478.903188 
L 248.609234 483.118518 
L 249.545983 489.133548 
L 252.356231 508.805089 
L 253.29298 512.938412 
L 254.22973 516.685372 
L 254.698104 517.187024 
L 256.103228 517.187024 
L 256.571603 516.494361 
L 259.850225 509.93718 
L 261.255349 505.837139 
L 261.723724 504.432029 
L 263.597222 497.050023 
L 265.939095 488.045828 
L 267.344219 483.830498 
L 268.749343 480.918489 
L 269.217718 479.981749 
L 269.686092 480.894786 
L 271.091216 485.110116 
L 272.49634 491.945587 
L 272.964715 494.287437 
L 275.306588 509.736898 
L 276.711712 516.762448 
L 277.180086 517.570479 
L 278.58521 518.975589 
L 279.053585 516.349322 
L 280.458709 506.513552 
L 281.863833 487.389171 
L 282.332207 480.831991 
L 284.205706 461.798028 
L 286.079204 448.469419 
L 286.547579 447.993131 
L 287.952703 447.993131 
L 288.889452 450.609352 
L 289.826201 453.419572 
L 291.6997 460.852201 
L 293.573198 471.977247 
L 297.78857 503.908493 
L 299.193694 509.528933 
L 301.067192 513.364728 
L 302.003941 509.864024 
L 302.940691 506.117064 
L 305.282564 478.316207 
L 306.687688 461.454887 
L 308.561186 450.028497 
L 309.96631 447.108103 
L 310.434685 446.171363 
L 311.839809 448.884909 
L 312.308183 449.821649 
L 314.181682 457.273981 
L 316.05518 468.480023 
L 320.270552 501.252425 
L 321.675676 509.683085 
L 323.549174 513.445724 
L 325.422673 509.541113 
L 325.891047 492.161328 
L 327.764546 470.554544 
L 329.638044 456.233062 
L 331.043168 449.207511 
L 331.511543 447.767637 
L 332.916667 446.362527 
L 333.385041 446.809632 
L 334.790165 451.024962 
L 335.25854 453.359046 
L 337.600413 470.455985 
L 340.879035 496.19997 
L 342.752534 506.851067 
L 344.157658 511.909463 
L 344.626032 512.798419 
L 346.031156 513.360463 
L 346.499531 511.931859 
L 347.904655 503.501199 
L 348.373029 499.155775 
L 350.246528 477.192499 
L 351.651652 463.141399 
L 352.120026 459.770783 
L 353.52515 452.745233 
L 353.993525 451.46735 
L 355.398649 450.06224 
L 355.867023 450.401969 
L 357.272147 453.212189 
L 357.740522 455.239895 
L 359.145646 463.670555 
L 360.082395 472.268939 
L 362.892643 500.37114 
L 363.829392 506.733597 
L 364.766141 512.354037 
L 365.234516 513.733054 
L 366.63964 515.138164 
L 367.108014 514.737688 
L 368.513138 511.927468 
L 368.981513 508.939797 
L 370.855011 491.189382 
L 372.72851 469.90658 
L 374.133634 458.6657 
L 374.602008 456.434313 
L 376.007132 452.218983 
L 376.475507 452.039831 
L 377.880631 453.444941 
L 378.349005 454.53304 
L 379.754129 458.74837 
L 380.690878 464.685026 
L 382.564377 478.58437 
L 385.374625 501.06613 
L 386.311374 506.18485 
L 387.248123 510.86855 
L 388.184872 513.64399 
L 389.121622 516.079514 
L 389.589996 516.042846 
L 390.99512 514.356714 
L 391.931869 511.468539 
L 393.805368 505.4208 
L 400.362613 485.74926 
L 400.830987 485.044873 
L 404.10961 481.766283 
L 404.577984 482.369248 
L 405.983108 485.179468 
L 407.856607 490.692025 
L 408.793356 495.998939 
L 411.603604 512.860259 
L 412.071978 514.188036 
L 413.477102 516.998256 
L 413.945477 516.813039 
L 415.350601 515.407929 
L 416.28735 512.779727 
L 417.224099 509.969507 
L 417.692474 509.206984 
L 419.565972 501.584784 
L 421.439471 492.480693 
L 423.312969 486.995282 
L 425.186468 483.386726 
L 426.591592 481.981616 
L 427.059966 481.796804 
L 428.46509 483.201914 
L 428.933465 484.105745 
L 430.806963 491.896723 
L 433.148836 505.32755 
L 434.55396 512.042543 
L 435.959084 516.257873 
L 436.427459 517.028371 
L 437.832583 515.623261 
L 438.300957 514.182724 
L 440.174456 500.572156 
L 443.921453 463.791164 
L 445.326577 455.360504 
L 445.794951 453.42792 
L 447.200075 452.02281 
L 447.66845 452.270047 
L 449.073574 456.485377 
L 449.541948 458.437318 
L 451.415447 470.049501 
L 453.75732 488.126905 
L 455.162444 497.577873 
L 457.035942 506.553721 
L 458.441066 510.769051 
L 458.909441 511.775859 
L 460.314565 513.180969 
L 460.782939 511.826609 
L 462.656438 496.015167 
L 464.529936 473.951957 
L 465.93506 459.900857 
L 466.403435 456.705707 
L 467.808559 452.490377 
L 468.276933 451.949366 
L 469.682057 453.354476 
L 470.150432 454.042246 
L 471.555556 456.852466 
L 472.02393 458.234755 
L 473.897429 466.180974 
L 475.770927 477.880902 
L 477.644426 492.402945 
L 479.517924 503.171277 
L 480.923048 508.791718 
L 481.391423 509.227306 
L 482.796547 506.417086 
L 483.264921 503.536159 
L 485.13842 484.308563 
L 486.543544 467.447242 
L 487.011918 463.32544 
L 488.417042 454.89478 
L 488.885417 453.097151 
L 490.290541 450.286931 
L 490.758915 450.376282 
L 492.164039 453.186502 
L 492.632414 454.643036 
L 494.037538 460.263477 
L 494.974287 465.473721 
L 496.379411 474.437675 
L 498.252909 488.885472 
L 500.126408 499.852955 
L 501.999906 508.666813 
L 503.40503 512.882143 
L 503.873405 513.166667 
L 505.278529 511.761557 
L 505.746903 509.592061 
L 507.620402 495.903909 
L 509.025526 483.257918 
L 509.4939 457.257556 
L 510.899024 453.744781 
L 511.367399 454.633037 
L 512.304148 456.974887 
L 512.772523 459.750123 
L 515.114396 477.313998 
L 515.58277 479.090351 
L 518.393018 465.039251 
L 519.329767 475.995396 
L 520.266517 486.868743 
L 521.67164 500.311376 
L 523.076764 510.087636 
L 524.013514 512.429486 
L 524.481888 513.293217 
L 525.887012 509.780442 
L 527.292136 499.389793 
L 530.102384 467.848656 
L 530.570758 464.201907 
L 531.975882 459.138824 
L 533.381006 457.733714 
L 533.849381 457.500283 
L 535.722879 461.410619 
L 537.596378 469.074664 
L 545.090372 513.643937 
L 546.495495 516.454157 
L 546.96387 516.983151 
L 552.584366 505.63021 
L 554.457864 500.125206 
L 559.609985 489.821065 
L 560.07836 489.261006 
L 561.951858 491.263421 
L 563.356982 494.073641 
L 563.825357 495.275001 
L 565.698855 502.904606 
L 567.572354 511.993887 
L 569.445852 517.329459 
L 570.850976 518.734569 
L 571.319351 518.765511 
L 573.192849 514.869367 
L 580.686843 492.55029 
L 583.965465 485.99311 
L 584.43384 485.564668 
L 585.838964 486.969778 
L 586.307339 487.956571 
L 588.180837 495.802856 
L 590.52271 509.206029 
L 591.927834 515.682783 
L 593.332958 518.493003 
L 593.801333 518.870823 
L 595.206456 517.465713 
L 595.674831 515.290207 
L 599.421828 478.213469 
L 600.826952 466.972589 
L 601.295327 464.824078 
L 602.232076 462.622289 
L 602.70045 461.451364 
L 603.168825 461.485582 
L 604.105574 462.656507 
L 604.573949 462.665976 
L 606.915822 459.738663 
L 607.384197 459.51657 
L 608.789321 468.298507 
L 612.536318 503.827973 
L 613.473067 510.280063 
L 614.878191 515.394355 
L 616.283315 517.150742 
L 617.688438 512.026708 
L 618.625188 502.388382 
L 620.030312 485.673687 
L 620.967061 474.380491 
L 622.372185 460.800939 
L 623.777309 455.531776 
L 625.182432 453.736573 
L 625.650807 454.50812 
L 626.587556 456.84997 
L 627.524306 460.115902 
L 628.461055 463.853578 
L 629.866179 471.101496 
L 631.739677 485.735524 
L 633.144801 497.561026 
L 634.549925 507.388365 
L 635.486674 512.072065 
L 635.955049 513.688589 
L 636.891798 514.859514 
L 637.360173 515.188861 
L 638.765297 513.360774 
L 640.17042 502.822448 
L 642.043919 479.801459 
L 643.449043 463.530831 
L 644.854167 455.32862 
L 646.259291 453.634661 
L 647.664414 455.391048 
L 648.132789 454.654067 
L 648.601164 453.700157 
L 649.537913 455.381958 
L 652.348161 461.002398 
L 653.753285 471.316681 
L 658.437031 509.945623 
L 659.842155 515.214785 
L 661.247279 517.039262 
L 661.715653 516.311624 
L 662.652402 513.969774 
L 663.120777 510.854953 
L 664.525901 496.383323 
L 666.399399 474.328842 
L 667.336149 464.961442 
L 668.741273 459.606427 
L 669.209647 458.759188 
L 670.146396 457.588263 
L 670.614771 457.684514 
L 671.55152 458.855439 
L 672.019895 459.66804 
L 672.956644 462.00989 
L 673.425019 463.521079 
L 674.830143 472.303017 
L 678.57714 504.145131 
L 679.513889 510.438642 
L 680.919013 515.447214 
L 682.324137 517.170447 
L 683.729261 515.414059 
L 684.66601 507.800424 
L 685.134384 503.702187 
L 686.071134 492.62551 
L 687.007883 481.438034 
L 688.413007 468.12278 
L 689.818131 462.920521 
L 691.223255 461.164134 
L 691.691629 461.589064 
L 692.628378 462.759989 
L 693.096753 464.128409 
L 694.033502 467.641184 
L 694.501877 470.230855 
L 699.185623 504.836535 
L 700.122372 510.691161 
L 701.059122 514.558155 
L 701.527496 516.314542 
L 701.995871 517.481659 
L 702.93262 518.652584 
L 703.400995 519.057129 
L 704.806119 518.98993 
L 706.211242 517.233542 
L 709.489865 509.083585 
L 715.11036 495.032485 
L 716.04711 493.718198 
L 716.515484 493.132736 
L 716.983859 492.875656 
L 717.920608 492.875656 
L 718.388983 493.090322 
L 719.794107 494.947658 
L 721.19923 498.460433 
L 724.477853 510.397118 
L 725.414602 512.738968 
L 725.882977 513.446814 
L 725.882977 513.446814 
" clip-path="url(#p68bb733ccb)" style="fill: none; stroke-dasharray: 9.6,2.4,1.5,2.4; stroke-dashoffset: 0; stroke: #ff0000; stroke-width: 2"/>
   </g>
   <g id="line2d_138">
    <path d="M 51.891892 514.048699 
L 54.70214 494.65566 
L 57.044013 473.819248 
L 61.259384 444.368847 
L 63.132883 450.031304 
L 65.006381 457.434441 
L 66.87988 460.953824 
L 67.816629 458.45585 
L 68.285004 461.243927 
L 69.690128 475.19457 
L 71.563626 496.699474 
L 72.96875 507.940354 
L 73.437125 510.696959 
L 75.310623 517.939915 
L 76.715747 522.155245 
L 77.184122 522.034324 
L 78.589245 517.818994 
L 79.05762 515.640744 
L 81.399493 501.103339 
L 82.804617 491.735938 
L 83.741366 488.524005 
L 84.678116 485.713785 
L 85.14649 485.033049 
L 88.425113 481.754459 
L 89.830236 479.043672 
L 90.298611 478.106932 
L 90.766986 479.77637 
L 91.703735 484.460071 
L 92.640484 492.142599 
L 94.045608 503.934453 
L 95.450732 512.365114 
L 96.387481 515.968336 
L 97.792605 520.652036 
L 98.26098 521.313045 
L 99.666104 522.718155 
L 100.134478 521.240599 
L 102.476351 512.242169 
L 104.34985 505.385079 
L 106.223348 496.376592 
L 109.501971 489.819412 
L 109.970345 488.50351 
L 111.375469 481.47796 
L 111.843844 479.914682 
L 113.248968 481.319792 
L 113.717342 482.586983 
L 115.590841 496.110878 
L 117.464339 514.00636 
L 119.337838 521.213757 
L 120.742962 524.023977 
L 121.211336 523.494356 
L 123.084835 507.906472 
L 128.70533 441.422003 
L 130.110454 432.991343 
L 130.578829 430.998674 
L 131.983953 429.593564 
L 132.452327 429.959619 
L 134.325826 437.283279 
L 136.199324 442.730085 
L 137.604448 445.540305 
L 138.072823 448.601158 
L 140.414696 482.684567 
L 141.351445 497.672407 
L 141.81982 512.972325 
L 142.288194 519.829015 
L 142.756569 522.951482 
L 143.224944 523.823543 
L 144.630068 518.203103 
L 145.098442 512.364142 
L 146.503566 481.551111 
L 148.377065 452.335937 
L 150.250563 434.12164 
L 151.655687 425.690979 
L 152.124062 424.482767 
L 155.871059 447.245028 
L 157.744557 462.520118 
L 161.491554 499.68897 
L 163.365053 513.908062 
L 164.770176 518.123392 
L 165.238551 518.585757 
L 166.643675 514.370426 
L 167.11205 511.520824 
L 169.453923 482.154136 
L 171.327421 457.196653 
L 172.732545 441.529698 
L 173.669294 436.845997 
L 174.137669 435.300642 
L 175.542793 442.326192 
L 176.947917 438.898352 
L 177.416291 440.472961 
L 179.758164 452.182211 
L 180.226539 455.444675 
L 182.100038 474.554471 
L 185.37866 513.897551 
L 185.847035 518.158261 
L 187.252158 525.183811 
L 187.720533 526.735172 
L 189.125657 528.140282 
L 189.594032 526.799681 
L 191.46753 510.994353 
L 193.341029 487.681607 
L 195.214527 458.972654 
L 196.619651 444.921554 
L 197.088026 442.811808 
L 198.493149 445.622028 
L 198.961524 446.99451 
L 202.708521 462.431591 
L 204.113645 470.862251 
L 204.58202 474.584453 
L 206.455518 493.781994 
L 208.329017 515.090029 
L 209.73414 524.925799 
L 210.202515 526.77567 
L 211.607639 528.18078 
L 212.076014 525.992709 
L 213.481137 511.941609 
L 213.949512 505.298953 
L 215.823011 473.065778 
L 217.228134 456.204458 
L 217.696509 453.100209 
L 219.101633 450.289989 
L 219.570008 450.11823 
L 220.975131 451.52334 
L 221.443506 452.508448 
L 223.317005 458.390631 
L 224.722128 464.011071 
L 225.190503 466.945025 
L 226.595627 478.185905 
L 227.532376 488.627278 
L 228.9375 504.944862 
L 230.342624 518.995962 
L 230.810998 522.028206 
L 232.684497 529.163946 
L 233.621246 531.706672 
L 234.089621 529.701193 
L 235.963119 515.331771 
L 237.836618 504.403474 
L 239.241742 497.377924 
L 239.710116 495.98395 
L 241.11524 493.17373 
L 241.583615 493.19499 
L 242.988739 494.6001 
L 243.457113 494.100345 
L 246.735736 487.543165 
L 247.20411 488.91263 
L 248.609234 495.93818 
L 249.545983 503.82669 
L 250.482733 512.25735 
L 251.419482 517.469701 
L 252.356231 522.153401 
L 252.824606 523.136922 
L 254.22973 524.542032 
L 255.166479 526.290099 
L 256.103228 528.163579 
L 256.571603 527.022328 
L 258.445101 519.178701 
L 259.850225 512.153151 
L 260.786974 509.112354 
L 265.470721 495.061254 
L 266.875845 492.14587 
L 267.344219 491.20913 
L 269.217718 485.690479 
L 269.686092 486.505102 
L 271.091216 490.720432 
L 272.027965 497.739154 
L 274.838213 520.220914 
L 275.774962 524.321035 
L 276.711712 528.067995 
L 277.648461 530.111305 
L 278.58521 531.984785 
L 279.053585 529.826889 
L 280.458709 521.396228 
L 281.863833 499.696124 
L 283.268956 475.490465 
L 284.205706 458.629145 
L 285.142455 448.690417 
L 285.61083 447.710258 
L 287.015953 458.952414 
L 287.952703 471.442281 
L 288.421077 473.111906 
L 289.826201 475.922126 
L 291.231325 482.763802 
L 291.6997 485.105652 
L 292.168074 484.984782 
L 293.573198 483.579672 
L 294.509947 495.875903 
L 295.915071 516.38185 
L 297.320195 538.86361 
L 299.193694 557.885164 
L 300.130443 561.006307 
L 301.067192 563.816527 
L 302.003941 559.461168 
L 302.940691 554.777468 
L 304.814189 525.216134 
L 307.156062 475.650998 
L 309.029561 443.250838 
L 309.497935 436.225287 
L 309.96631 437.716519 
L 310.903059 454.129799 
L 313.713307 475.898608 
L 314.181682 479.645568 
L 315.586806 482.560302 
L 316.05518 483.497042 
L 317.928679 498.400617 
L 321.675676 550.794042 
L 323.549174 560.19672 
L 325.422673 554.589129 
L 325.891047 549.56384 
L 327.296171 518.439328 
L 328.701295 490.671339 
L 330.574794 472.157315 
L 332.448292 464.924505 
L 333.853416 468.43728 
L 336.195289 477.307534 
L 337.600413 481.522864 
L 342.284159 537.402015 
L 343.220908 546.769415 
L 345.094407 558.146012 
L 346.031156 559.235525 
L 346.967905 560.172265 
L 348.841404 547.275342 
L 349.778153 519.720652 
L 350.246528 509.990253 
L 351.183277 498.670769 
L 353.056776 503.128812 
L 354.461899 505.939032 
L 356.335398 498.527194 
L 358.208896 488.711237 
L 359.145646 482.856612 
L 359.61402 486.141912 
L 361.019144 510.132087 
L 362.424268 540.805385 
L 363.829392 558.337323 
L 365.234516 561.850098 
L 365.70289 560.642339 
L 366.63964 557.129564 
L 367.108014 556.097215 
L 368.044764 554.92629 
L 368.513138 553.099319 
L 369.918262 541.753491 
L 371.323386 520.593376 
L 372.72851 492.491176 
L 373.665259 484.53711 
L 374.133634 481.024335 
L 374.602008 481.300493 
L 375.538758 485.984193 
L 376.007132 490.977799 
L 377.412256 514.355561 
L 378.81738 524.629705 
L 380.222504 522.873317 
L 381.159253 526.082183 
L 381.627628 527.83857 
L 382.564377 529.977623 
L 383.501126 531.851103 
L 384.437875 535.301301 
L 385.374625 539.048261 
L 385.842999 543.670331 
L 387.248123 560.653233 
L 388.184872 570.020633 
L 388.653247 572.583105 
L 393.336993 548.827742 
L 394.742117 540.397082 
L 395.210492 538.947812 
L 396.615616 536.137592 
L 398.020739 532.047019 
L 400.362613 525.021469 
L 401.299362 518.117589 
L 402.704486 506.169235 
L 404.10961 492.118135 
L 404.577984 489.666383 
L 405.514733 486.153607 
L 405.983108 486.393251 
L 406.919857 489.906026 
L 407.388232 492.757184 
L 410.19848 520.859385 
L 413.477102 529.106747 
L 414.413851 531.448597 
L 414.882226 531.204553 
L 416.28735 523.871937 
L 417.692474 512.947194 
L 419.565972 505.581554 
L 420.971096 501.366224 
L 421.439471 501.277659 
L 422.844595 511.113429 
L 423.312969 515.697303 
L 424.249718 531.309637 
L 424.718093 529.012294 
L 425.654842 521.986744 
L 426.123217 521.74499 
L 427.059966 524.08684 
L 427.528341 526.438405 
L 428.933465 536.758999 
L 432.680462 558.936953 
L 434.55396 566.120316 
L 435.959084 568.930537 
L 436.427459 568.280746 
L 437.832583 557.039866 
L 438.300957 550.808478 
L 439.237706 528.951211 
L 440.64283 507.680434 
L 441.57958 499.797863 
L 443.921453 481.803607 
L 445.326577 468.767234 
L 446.7317 472.280009 
L 448.136824 489.745924 
L 448.605199 479.977555 
L 449.541948 451.875355 
L 450.010323 444.739897 
L 450.478697 442.398047 
L 452.352196 513.447909 
L 453.288945 516.570375 
L 453.75732 513.644833 
L 454.694069 501.935582 
L 455.162444 500.409984 
L 456.567568 513.953949 
L 457.972691 520.940301 
L 459.377815 522.696688 
L 460.314565 513.164879 
L 460.782939 507.895716 
L 461.719688 490.661501 
L 462.656438 470.554031 
L 463.593187 446.260208 
L 464.998311 455.121568 
L 465.93506 459.805268 
L 466.403435 457.894117 
L 467.808559 437.425846 
L 468.745308 428.058446 
L 469.213682 431.469202 
L 471.087181 449.636059 
L 472.02393 443.391126 
L 472.492305 446.346859 
L 473.429054 458.056109 
L 473.897429 461.837699 
L 474.834178 465.334405 
L 476.239302 482.898281 
L 477.644426 508.295382 
L 480.923048 541.081283 
L 481.391423 540.173183 
L 484.20167 501.360679 
L 485.606794 481.475309 
L 486.075169 475.841126 
L 487.011918 472.718659 
L 487.948667 445.800776 
L 488.417042 443.458926 
L 488.885417 447.445772 
L 489.822166 465.728407 
L 490.758915 478.218274 
L 491.22729 480.223509 
L 492.164039 481.394434 
L 492.632414 482.52135 
L 493.569163 485.302018 
L 494.974287 483.54563 
L 495.911036 489.660731 
L 496.379411 495.005257 
L 497.784535 515.203543 
L 500.594782 543.305743 
L 501.999906 550.36267 
L 502.468281 549.921117 
L 503.40503 547.579267 
L 503.873405 543.606879 
L 505.278529 526.515934 
L 506.683652 511.973844 
L 508.088776 491.005551 
L 509.025526 491.005551 
L 509.4939 490.546346 
L 510.430649 478.05648 
L 511.835773 454.925088 
L 512.772523 464.292488 
L 513.709272 476.605158 
L 514.177646 479.018627 
L 515.114396 475.599061 
L 516.51952 460.728932 
L 517.456269 449.019682 
L 517.924643 452.43336 
L 518.861393 476.728902 
L 519.798142 489.218768 
L 520.734891 497.026036 
L 523.076764 514.208879 
L 524.481888 521.080832 
L 525.887012 524.593607 
L 527.292136 517.789571 
L 528.228885 506.984142 
L 529.165634 494.204532 
L 530.570758 472.585809 
L 531.039133 466.340876 
L 531.507508 467.188146 
L 531.975882 470.310613 
L 532.444257 479.640272 
L 533.381006 520.232339 
L 534.317755 496.375129 
L 534.78613 492.785623 
L 535.722879 498.894411 
L 537.128003 505.919961 
L 538.533127 495.497716 
L 539.001502 497.506582 
L 540.406625 508.737746 
L 544.621997 550.880514 
L 546.027121 561.41884 
L 546.495495 561.115528 
L 547.432245 558.773678 
L 548.368994 554.534316 
L 549.305743 549.351465 
L 550.710867 539.084856 
L 552.115991 532.103586 
L 553.521115 528.590811 
L 554.926239 526.742846 
L 556.331363 524.986458 
L 556.799737 524.667445 
L 557.736486 524.667445 
L 558.204861 524.361981 
L 559.609985 520.69315 
L 561.015109 510.154825 
L 562.420233 492.889763 
L 562.888607 489.417386 
L 563.356982 487.075536 
L 563.825357 488.26195 
L 564.762106 508.557984 
L 566.16723 526.607814 
L 567.572354 541.018882 
L 568.509103 548.631836 
L 569.445852 555.123257 
L 570.850976 560.135119 
L 572.2561 558.378732 
L 573.661224 551.501359 
L 576.003097 536.051898 
L 576.939846 531.758032 
L 579.750094 524.732482 
L 582.560342 521.187188 
L 583.965465 519.430801 
L 584.43384 519.268921 
L 585.370589 520.439846 
L 585.838964 521.319528 
L 587.244088 528.345078 
L 590.52271 552.21845 
L 592.864583 563.9277 
L 593.332958 565.579865 
L 594.738082 562.047414 
L 597.079955 507.238914 
L 597.54833 495.529664 
L 598.016704 489.209267 
L 598.953453 483.354642 
L 599.421828 481.409486 
L 600.358577 480.238561 
L 600.826952 477.279998 
L 601.295327 466.15482 
L 602.232076 458.21871 
L 602.70045 454.705935 
L 603.168825 454.406876 
L 604.105574 456.748726 
L 604.573949 456.479667 
L 606.915822 447.697729 
L 607.384197 446.486395 
L 608.789321 457.02472 
L 612.536318 509.34885 
L 613.473067 517.760484 
L 614.878191 522.952211 
L 616.283315 526.464986 
L 617.688438 521.377234 
L 618.625188 508.676133 
L 619.561937 493.338052 
L 620.967061 466.067961 
L 622.372185 445.745787 
L 624.245683 436.944442 
L 625.182432 433.431667 
L 625.650807 434.3893 
L 627.055931 439.997081 
L 629.397804 451.706331 
L 629.866179 454.715283 
L 631.739677 479.299641 
L 632.676426 493.350741 
L 634.08155 507.866848 
L 634.549925 511.128576 
L 635.955049 517.670575 
L 637.360173 521.055292 
L 638.765297 522.72564 
L 640.17042 513.943702 
L 641.575544 493.562695 
L 643.917417 456.382958 
L 644.854167 445.68823 
L 646.259291 440.575138 
L 647.664414 444.087913 
L 648.132789 442.613951 
L 648.601164 440.70613 
L 649.069538 441.775367 
L 650.474662 445.990697 
L 652.348161 449.781767 
L 653.753285 456.685112 
L 654.690034 467.406544 
L 657.031907 496.292888 
L 658.437031 510.184642 
L 659.842155 520.722967 
L 661.247279 526.094264 
L 661.715653 526.09985 
L 662.652402 524.928925 
L 663.120777 520.779654 
L 664.525901 498.861944 
L 665.931025 471.145933 
L 667.336149 450.069282 
L 668.741273 439.427934 
L 669.209647 438.188031 
L 670.146396 437.017106 
L 670.614771 437.454213 
L 672.019895 441.194127 
L 673.425019 446.576711 
L 674.830143 453.602261 
L 676.703641 473.278772 
L 679.513889 507.674484 
L 680.919013 519.448015 
L 682.324137 524.684023 
L 683.729261 526.44041 
L 684.66601 519.021056 
L 685.134384 514.922818 
L 686.071134 501.926006 
L 688.413007 467.386933 
L 689.818131 453.503092 
L 691.223255 448.233929 
L 691.691629 448.498328 
L 692.628378 449.669253 
L 693.096753 451.429152 
L 694.033502 456.112852 
L 694.501877 459.565746 
L 695.907001 473.28876 
L 697.312125 483.726433 
L 698.717248 490.751983 
L 700.122372 501.163525 
L 702.464245 522.467611 
L 702.93262 525.980386 
L 703.400995 528.045821 
L 704.337744 525.70397 
L 704.806119 524.936244 
L 706.211242 531.961795 
L 707.616366 535.567605 
L 708.084741 533.336715 
L 710.894989 512.655647 
L 712.300113 505.798245 
L 718.388983 490.361554 
L 719.325732 486.848779 
L 719.794107 485.899975 
L 721.19923 494.681913 
L 722.604354 508.694704 
L 724.477853 531.169715 
L 724.946227 535.853415 
L 725.414602 542.861634 
L 725.882977 547.108708 
L 725.882977 547.108708 
" clip-path="url(#p68bb733ccb)" style="fill: none; stroke-dasharray: 5.55,2.4; stroke-dashoffset: 0; stroke: #0000ff; stroke-width: 2"/>
   </g>
   <g id="patch_15">
    <path d="M 51.891892 583.243243 
L 51.891892 414.189189 
" style="fill: none; stroke: #000000; stroke-width: 1.1; stroke-linejoin: miter; stroke-linecap: square"/>
   </g>
   <g id="patch_16">
    <path d="M 726.351351 583.243243 
L 726.351351 414.189189 
" style="fill: none; stroke: #000000; stroke-width: 1.1; stroke-linejoin: miter; stroke-linecap: square"/>
   </g>
   <g id="patch_17">
    <path d="M 51.891892 583.243243 
L 726.351351 583.243243 
" style="fill: none; stroke: #000000; stroke-width: 1.1; stroke-linejoin: miter; stroke-linecap: square"/>
   </g>
   <g id="patch_18">
    <path d="M 51.891892 414.189189 
L 726.351351 414.189189 
" style="fill: none; stroke: #000000; stroke-width: 1.1; stroke-linejoin: miter; stroke-linecap: square"/>
   </g>
   <g id="legend_3">
    <g id="patch_19">
     <path d="M 58.091892 579.043243 
L 168.526267 579.043243 
Q 170.526267 579.043243 170.526267 577.043243 
L 170.526267 546.886993 
Q 170.526267 544.886993 168.526267 544.886993 
L 58.091892 544.886993 
Q 56.091892 544.886993 56.091892 546.886993 
L 56.091892 577.043243 
Q 56.091892 579.043243 58.091892 579.043243 
z
" style="fill: #ffffff; opacity: 0.8; stroke: #cccccc; stroke-linejoin: miter"/>
    </g><g transform="translate(0 0.203)">
    <g id="line2d_139">
     <path d="M 60.591892 553.485431 
L 70.591892 553.485431 
L 80.591892 553.485431 
" style="fill: none; stroke-dasharray: 9.6,2.4,1.5,2.4; stroke-dashoffset: 0; stroke: #ff0000; stroke-width: 2"/>
    </g>
    <g id="text_72">
     <text style="font-size: 10px; font-family: 'DejaVu Sans'; text-anchor: start" x="88.591892" y="556.985431" transform="rotate(-0 88.591892 556.985431)">Predicted value</text>
    </g>
    <g id="line2d_140">
     <path d="M 60.591892 568.963556 
L 70.591892 568.963556 
L 80.591892 568.963556 
" style="fill: none; stroke-dasharray: 5.55,2.4; stroke-dashoffset: 0; stroke: #0000ff; stroke-width: 2"/>
    </g>
    <g id="text_73">
     <text style="font-size: 10px; font-family: 'DejaVu Sans'; text-anchor: start" x="88.591892" y="572.463556" transform="rotate(-0 88.591892 572.463556)">Actual value</text>
    </g>
   </g></g>
  </g>
 </g>
 <defs>
  <clipPath id="pc8f0f2f021">
   <rect x="51.891892" y="10.067568" width="674.459459" height="168.716216"/>
  </clipPath>
  <clipPath id="pb03964c44d">
   <rect x="51.891892" y="211.756757" width="674.459459" height="168.783784"/>
  </clipPath>
  <clipPath id="p68bb733ccb">
   <rect x="51.891892" y="414.189189" width="674.459459" height="169.054054"/>
  </clipPath>
 </defs>
</svg>

</body></html>
